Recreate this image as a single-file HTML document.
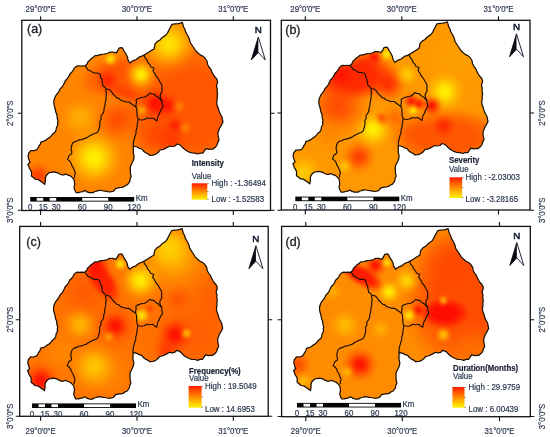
<!DOCTYPE html>
<html><head><meta charset="utf-8"><title>Drought characteristics maps</title>
<style>html,body{margin:0;padding:0;background:#fff}svg{display:block}text{stroke:#2e3a52;stroke-width:.22px;paint-order:stroke}</style></head>
<body>
<svg width="550" height="437" viewBox="0 0 550 437" font-family="'Liberation Sans', sans-serif" fill="#2e3a52">
<defs>
<clipPath id="rw"><path d="M54.0 100.0 L54.8 97.9 L55.7 95.8 L57.0 94.0 L58.8 91.8 L60.0 89.1 L62.0 87.0 L63.3 85.0 L64.4 82.9 L65.3 80.7 L67.0 79.0 L68.7 76.7 L69.9 74.0 L72.0 72.0 L73.3 70.2 L74.3 68.1 L76.0 66.6 L77.9 65.9 L80.0 66.0 L82.5 65.9 L85.0 66.0 L86.9 64.2 L88.0 61.7 L90.0 60.0 L91.5 58.3 L93.4 57.2 L95.0 55.6 L97.3 55.7 L99.5 54.9 L101.7 54.3 L104.0 54.0 L107.2 53.5 L110.0 52.0 L113.1 52.0 L116.0 53.0 L117.8 50.7 L119.0 48.0 L122.0 47.6 L123.2 49.2 L124.0 51.0 L126.0 54.0 L127.4 56.9 L128.0 60.0 L130.0 63.0 L131.8 61.4 L133.9 60.3 L136.2 59.5 L138.0 58.0 L139.8 56.7 L142.0 56.1 L144.0 55.0 L146.6 53.6 L149.0 52.0 L151.4 50.4 L154.0 49.0 L154.6 46.5 L155.0 44.0 L157.2 41.6 L160.0 40.0 L161.7 38.0 L163.8 36.4 L166.0 35.0 L167.7 32.6 L169.0 30.0 L170.4 27.2 L172.0 24.4 L175.0 23.8 L178.0 23.6 L180.2 23.1 L182.4 22.4 L183.0 24.7 L183.6 27.0 L184.9 29.2 L185.5 31.6 L186.7 33.8 L188.0 36.0 L189.3 38.9 L190.0 42.0 L191.3 44.0 L192.6 46.0 L194.0 48.0 L195.7 50.8 L198.0 53.0 L200.2 54.9 L202.8 56.1 L205.0 58.0 L207.0 61.0 L207.5 64.2 L209.0 67.0 L210.7 69.1 L211.7 71.6 L213.0 74.0 L214.3 76.2 L216.0 78.0 L217.2 79.9 L217.6 82.0 L217.0 84.0 L216.4 86.0 L217.3 88.6 L217.0 91.4 L217.6 94.0 L217.2 96.7 L217.2 99.5 L216.7 102.2 L217.0 105.0 L218.2 107.9 L219.0 111.0 L219.8 113.1 L220.9 115.0 L222.0 117.0 L222.4 119.5 L223.0 122.0 L222.0 124.0 L221.0 126.0 L219.7 127.8 L219.0 130.0 L218.0 132.4 L218.0 135.0 L218.5 137.5 L219.0 140.0 L217.8 142.4 L217.0 145.0 L215.3 147.3 L213.0 149.0 L211.0 149.0 L209.0 149.4 L206.0 148.6 L204.4 150.7 L203.0 153.0 L200.4 153.0 L198.0 154.0 L195.1 153.2 L192.0 153.0 L189.4 152.2 L187.0 151.0 L184.9 149.6 L183.0 148.0 L181.6 146.4 L180.0 145.0 L177.0 144.0 L175.0 146.0 L172.5 146.5 L170.0 146.0 L167.5 147.3 L165.0 148.6 L162.6 149.7 L160.0 150.0 L158.3 152.3 L156.0 154.0 L153.1 155.2 L150.0 155.4 L148.2 153.9 L146.0 153.0 L143.7 151.3 L142.0 149.0 L139.4 148.3 L137.0 147.0 L133.3 146.0 L133.4 148.1 L133.3 150.2 L133.3 153.2 L134.1 156.1 L133.8 159.2 L132.6 162.0 L131.5 164.2 L130.4 166.4 L130.3 168.6 L130.4 170.7 L130.4 173.7 L131.2 176.6 L130.1 179.1 L129.7 181.7 L127.5 184.7 L125.4 185.5 L123.8 186.9 L121.6 187.5 L119.4 187.6 L115.8 188.3 L113.6 191.2 L109.9 192.0 L107.7 191.7 L105.5 191.2 L103.3 191.0 L101.1 190.5 L98.8 190.4 L96.7 191.2 L94.7 191.5 L93.0 192.7 L89.4 192.7 L87.0 191.9 L85.0 190.5 L82.9 191.6 L80.6 192.0 L78.4 192.6 L76.2 192.7 L74.8 190.3 L74.0 187.6 L74.8 183.9 L74.4 181.7 L74.0 179.5 L72.3 177.6 L70.4 175.9 L68.0 175.2 L65.9 174.0 L63.8 174.9 L61.5 174.8 L59.3 173.8 L57.1 172.6 L53.5 171.9 L51.3 172.4 L49.1 172.6 L47.6 174.0 L46.2 175.5 L45.3 178.0 L45.4 180.6 L44.7 184.3 L41.8 182.1 L38.8 179.9 L35.2 179.2 L33.5 177.5 L31.5 176.2 L31.5 174.1 L31.5 171.9 L30.5 170.0 L29.3 168.2 L28.8 166.3 L27.9 164.5 L30.0 162.3 L28.6 158.7 L28.1 156.1 L28.6 153.5 L30.8 150.6 L33.8 150.7 L36.6 149.9 L38.0 148.2 L38.8 146.2 L40.3 144.2 L41.0 141.8 L43.3 141.4 L45.4 140.4 L47.5 138.8 L49.8 137.4 L51.5 135.6 L53.0 133.7 L55.0 132.3 L56.1 129.9 L56.5 127.3 L57.9 125.0 L57.5 123.0 L58.0 121.0 L57.2 118.1 L57.0 115.0 L56.0 112.8 L55.5 110.4 L55.0 108.0 L54.2 105.4 L53.8 102.7 Z"/></clipPath>
<linearGradient id="lg" x1="0" y1="0" x2="0" y2="1"><stop offset="0" stop-color="#ff1a00"/><stop offset="0.5" stop-color="#ff8c00"/><stop offset="1" stop-color="#fff200"/></linearGradient>
<filter id="bl" x="-5%" y="-5%" width="110%" height="110%"><feGaussianBlur stdDeviation="1.2"/></filter>
<radialGradient id="g1"><stop offset="0.00" stop-color="#ff5600" stop-opacity="1.00"/><stop offset="0.45" stop-color="#ff5600" stop-opacity="1.00"/><stop offset="0.70" stop-color="#ff5600" stop-opacity="0.60"/><stop offset="0.88" stop-color="#ff5600" stop-opacity="0.18"/><stop offset="1.00" stop-color="#ff5600" stop-opacity="0.00"/></radialGradient>
<radialGradient id="g2"><stop offset="0.00" stop-color="#ff5200" stop-opacity="0.90"/><stop offset="0.45" stop-color="#ff5200" stop-opacity="0.90"/><stop offset="0.70" stop-color="#ff5200" stop-opacity="0.54"/><stop offset="0.88" stop-color="#ff5200" stop-opacity="0.16"/><stop offset="1.00" stop-color="#ff5200" stop-opacity="0.00"/></radialGradient>
<radialGradient id="g3"><stop offset="0.00" stop-color="#fff000" stop-opacity="1.00"/><stop offset="0.20" stop-color="#fff000" stop-opacity="0.90"/><stop offset="0.40" stop-color="#fff000" stop-opacity="0.62"/><stop offset="0.60" stop-color="#fff000" stop-opacity="0.32"/><stop offset="0.80" stop-color="#fff000" stop-opacity="0.10"/><stop offset="1.00" stop-color="#fff000" stop-opacity="0.00"/></radialGradient>
<radialGradient id="g4"><stop offset="0.00" stop-color="#fff000" stop-opacity="0.90"/><stop offset="0.20" stop-color="#fff000" stop-opacity="0.81"/><stop offset="0.40" stop-color="#fff000" stop-opacity="0.56"/><stop offset="0.60" stop-color="#fff000" stop-opacity="0.29"/><stop offset="0.80" stop-color="#fff000" stop-opacity="0.09"/><stop offset="1.00" stop-color="#fff000" stop-opacity="0.00"/></radialGradient>
<radialGradient id="g5"><stop offset="0.00" stop-color="#ffe400" stop-opacity="1.00"/><stop offset="0.20" stop-color="#ffe400" stop-opacity="0.90"/><stop offset="0.40" stop-color="#ffe400" stop-opacity="0.62"/><stop offset="0.60" stop-color="#ffe400" stop-opacity="0.32"/><stop offset="0.80" stop-color="#ffe400" stop-opacity="0.10"/><stop offset="1.00" stop-color="#ffe400" stop-opacity="0.00"/></radialGradient>
<radialGradient id="g6"><stop offset="0.00" stop-color="#ffb800" stop-opacity="0.80"/><stop offset="0.20" stop-color="#ffb800" stop-opacity="0.72"/><stop offset="0.40" stop-color="#ffb800" stop-opacity="0.50"/><stop offset="0.60" stop-color="#ffb800" stop-opacity="0.26"/><stop offset="0.80" stop-color="#ffb800" stop-opacity="0.08"/><stop offset="1.00" stop-color="#ffb800" stop-opacity="0.00"/></radialGradient>
<radialGradient id="g7"><stop offset="0.00" stop-color="#fff000" stop-opacity="1.00"/><stop offset="0.20" stop-color="#fff000" stop-opacity="0.90"/><stop offset="0.40" stop-color="#fff000" stop-opacity="0.62"/><stop offset="0.60" stop-color="#fff000" stop-opacity="0.32"/><stop offset="0.80" stop-color="#fff000" stop-opacity="0.10"/><stop offset="1.00" stop-color="#fff000" stop-opacity="0.00"/></radialGradient>
<radialGradient id="g8"><stop offset="0.00" stop-color="#ff2000" stop-opacity="0.90"/><stop offset="0.20" stop-color="#ff2000" stop-opacity="0.81"/><stop offset="0.40" stop-color="#ff2000" stop-opacity="0.56"/><stop offset="0.60" stop-color="#ff2000" stop-opacity="0.29"/><stop offset="0.80" stop-color="#ff2000" stop-opacity="0.09"/><stop offset="1.00" stop-color="#ff2000" stop-opacity="0.00"/></radialGradient>
<radialGradient id="g9"><stop offset="0.00" stop-color="#ff3a00" stop-opacity="0.85"/><stop offset="0.20" stop-color="#ff3a00" stop-opacity="0.77"/><stop offset="0.40" stop-color="#ff3a00" stop-opacity="0.53"/><stop offset="0.60" stop-color="#ff3a00" stop-opacity="0.27"/><stop offset="0.80" stop-color="#ff3a00" stop-opacity="0.09"/><stop offset="1.00" stop-color="#ff3a00" stop-opacity="0.00"/></radialGradient>
<radialGradient id="g10"><stop offset="0.00" stop-color="#ff1000" stop-opacity="1.00"/><stop offset="0.20" stop-color="#ff1000" stop-opacity="0.90"/><stop offset="0.40" stop-color="#ff1000" stop-opacity="0.62"/><stop offset="0.60" stop-color="#ff1000" stop-opacity="0.32"/><stop offset="0.80" stop-color="#ff1000" stop-opacity="0.10"/><stop offset="1.00" stop-color="#ff1000" stop-opacity="0.00"/></radialGradient>
<radialGradient id="g11"><stop offset="0.00" stop-color="#ff1000" stop-opacity="0.90"/><stop offset="0.20" stop-color="#ff1000" stop-opacity="0.81"/><stop offset="0.40" stop-color="#ff1000" stop-opacity="0.56"/><stop offset="0.60" stop-color="#ff1000" stop-opacity="0.29"/><stop offset="0.80" stop-color="#ff1000" stop-opacity="0.09"/><stop offset="1.00" stop-color="#ff1000" stop-opacity="0.00"/></radialGradient>
<radialGradient id="g12"><stop offset="0.00" stop-color="#ffb000" stop-opacity="0.90"/><stop offset="0.20" stop-color="#ffb000" stop-opacity="0.81"/><stop offset="0.40" stop-color="#ffb000" stop-opacity="0.56"/><stop offset="0.60" stop-color="#ffb000" stop-opacity="0.29"/><stop offset="0.80" stop-color="#ffb000" stop-opacity="0.09"/><stop offset="1.00" stop-color="#ffb000" stop-opacity="0.00"/></radialGradient>
<radialGradient id="g13"><stop offset="0.00" stop-color="#ff9000" stop-opacity="0.75"/><stop offset="0.20" stop-color="#ff9000" stop-opacity="0.68"/><stop offset="0.40" stop-color="#ff9000" stop-opacity="0.46"/><stop offset="0.60" stop-color="#ff9000" stop-opacity="0.24"/><stop offset="0.80" stop-color="#ff9000" stop-opacity="0.08"/><stop offset="1.00" stop-color="#ff9000" stop-opacity="0.00"/></radialGradient>
<radialGradient id="g14"><stop offset="0.00" stop-color="#ff1000" stop-opacity="0.95"/><stop offset="0.20" stop-color="#ff1000" stop-opacity="0.85"/><stop offset="0.40" stop-color="#ff1000" stop-opacity="0.59"/><stop offset="0.60" stop-color="#ff1000" stop-opacity="0.30"/><stop offset="0.80" stop-color="#ff1000" stop-opacity="0.10"/><stop offset="1.00" stop-color="#ff1000" stop-opacity="0.00"/></radialGradient>
<radialGradient id="g15"><stop offset="0.00" stop-color="#ff9600" stop-opacity="0.80"/><stop offset="0.20" stop-color="#ff9600" stop-opacity="0.72"/><stop offset="0.40" stop-color="#ff9600" stop-opacity="0.50"/><stop offset="0.60" stop-color="#ff9600" stop-opacity="0.26"/><stop offset="0.80" stop-color="#ff9600" stop-opacity="0.08"/><stop offset="1.00" stop-color="#ff9600" stop-opacity="0.00"/></radialGradient>
<radialGradient id="g16"><stop offset="0.00" stop-color="#ff2800" stop-opacity="0.80"/><stop offset="0.20" stop-color="#ff2800" stop-opacity="0.72"/><stop offset="0.40" stop-color="#ff2800" stop-opacity="0.50"/><stop offset="0.60" stop-color="#ff2800" stop-opacity="0.26"/><stop offset="0.80" stop-color="#ff2800" stop-opacity="0.08"/><stop offset="1.00" stop-color="#ff2800" stop-opacity="0.00"/></radialGradient>
<radialGradient id="g17"><stop offset="0.00" stop-color="#ff3800" stop-opacity="0.95"/><stop offset="0.20" stop-color="#ff3800" stop-opacity="0.85"/><stop offset="0.40" stop-color="#ff3800" stop-opacity="0.59"/><stop offset="0.60" stop-color="#ff3800" stop-opacity="0.30"/><stop offset="0.80" stop-color="#ff3800" stop-opacity="0.10"/><stop offset="1.00" stop-color="#ff3800" stop-opacity="0.00"/></radialGradient>
<radialGradient id="g18"><stop offset="0.00" stop-color="#ff4000" stop-opacity="0.80"/><stop offset="0.20" stop-color="#ff4000" stop-opacity="0.72"/><stop offset="0.40" stop-color="#ff4000" stop-opacity="0.50"/><stop offset="0.60" stop-color="#ff4000" stop-opacity="0.26"/><stop offset="0.80" stop-color="#ff4000" stop-opacity="0.08"/><stop offset="1.00" stop-color="#ff4000" stop-opacity="0.00"/></radialGradient>
<radialGradient id="g19"><stop offset="0.00" stop-color="#ff4000" stop-opacity="0.80"/><stop offset="0.20" stop-color="#ff4000" stop-opacity="0.72"/><stop offset="0.40" stop-color="#ff4000" stop-opacity="0.50"/><stop offset="0.60" stop-color="#ff4000" stop-opacity="0.26"/><stop offset="0.80" stop-color="#ff4000" stop-opacity="0.08"/><stop offset="1.00" stop-color="#ff4000" stop-opacity="0.00"/></radialGradient>
<radialGradient id="g20"><stop offset="0.00" stop-color="#ffa200" stop-opacity="0.70"/><stop offset="0.20" stop-color="#ffa200" stop-opacity="0.63"/><stop offset="0.40" stop-color="#ffa200" stop-opacity="0.43"/><stop offset="0.60" stop-color="#ffa200" stop-opacity="0.22"/><stop offset="0.80" stop-color="#ffa200" stop-opacity="0.07"/><stop offset="1.00" stop-color="#ffa200" stop-opacity="0.00"/></radialGradient>
<radialGradient id="g21"><stop offset="0.00" stop-color="#ff5600" stop-opacity="1.00"/><stop offset="0.45" stop-color="#ff5600" stop-opacity="1.00"/><stop offset="0.70" stop-color="#ff5600" stop-opacity="0.60"/><stop offset="0.88" stop-color="#ff5600" stop-opacity="0.18"/><stop offset="1.00" stop-color="#ff5600" stop-opacity="0.00"/></radialGradient>
<radialGradient id="g22"><stop offset="0.00" stop-color="#ff2a00" stop-opacity="1.00"/><stop offset="0.45" stop-color="#ff2a00" stop-opacity="1.00"/><stop offset="0.70" stop-color="#ff2a00" stop-opacity="0.60"/><stop offset="0.88" stop-color="#ff2a00" stop-opacity="0.18"/><stop offset="1.00" stop-color="#ff2a00" stop-opacity="0.00"/></radialGradient>
<radialGradient id="g23"><stop offset="0.00" stop-color="#ff1000" stop-opacity="0.80"/><stop offset="0.20" stop-color="#ff1000" stop-opacity="0.72"/><stop offset="0.40" stop-color="#ff1000" stop-opacity="0.50"/><stop offset="0.60" stop-color="#ff1000" stop-opacity="0.26"/><stop offset="0.80" stop-color="#ff1000" stop-opacity="0.08"/><stop offset="1.00" stop-color="#ff1000" stop-opacity="0.00"/></radialGradient>
<radialGradient id="g24"><stop offset="0.00" stop-color="#ff1000" stop-opacity="0.95"/><stop offset="0.20" stop-color="#ff1000" stop-opacity="0.85"/><stop offset="0.40" stop-color="#ff1000" stop-opacity="0.59"/><stop offset="0.60" stop-color="#ff1000" stop-opacity="0.30"/><stop offset="0.80" stop-color="#ff1000" stop-opacity="0.10"/><stop offset="1.00" stop-color="#ff1000" stop-opacity="0.00"/></radialGradient>
<radialGradient id="g25"><stop offset="0.00" stop-color="#fff000" stop-opacity="0.95"/><stop offset="0.20" stop-color="#fff000" stop-opacity="0.85"/><stop offset="0.40" stop-color="#fff000" stop-opacity="0.59"/><stop offset="0.60" stop-color="#fff000" stop-opacity="0.30"/><stop offset="0.80" stop-color="#fff000" stop-opacity="0.10"/><stop offset="1.00" stop-color="#fff000" stop-opacity="0.00"/></radialGradient>
<radialGradient id="g26"><stop offset="0.00" stop-color="#ff2800" stop-opacity="0.95"/><stop offset="0.20" stop-color="#ff2800" stop-opacity="0.85"/><stop offset="0.40" stop-color="#ff2800" stop-opacity="0.59"/><stop offset="0.60" stop-color="#ff2800" stop-opacity="0.30"/><stop offset="0.80" stop-color="#ff2800" stop-opacity="0.10"/><stop offset="1.00" stop-color="#ff2800" stop-opacity="0.00"/></radialGradient>
<radialGradient id="g27"><stop offset="0.00" stop-color="#ffd000" stop-opacity="0.90"/><stop offset="0.20" stop-color="#ffd000" stop-opacity="0.81"/><stop offset="0.40" stop-color="#ffd000" stop-opacity="0.56"/><stop offset="0.60" stop-color="#ffd000" stop-opacity="0.29"/><stop offset="0.80" stop-color="#ffd000" stop-opacity="0.09"/><stop offset="1.00" stop-color="#ffd000" stop-opacity="0.00"/></radialGradient>
<radialGradient id="g28"><stop offset="0.00" stop-color="#fff000" stop-opacity="1.00"/><stop offset="0.20" stop-color="#fff000" stop-opacity="0.90"/><stop offset="0.40" stop-color="#fff000" stop-opacity="0.62"/><stop offset="0.60" stop-color="#fff000" stop-opacity="0.32"/><stop offset="0.80" stop-color="#fff000" stop-opacity="0.10"/><stop offset="1.00" stop-color="#fff000" stop-opacity="0.00"/></radialGradient>
<radialGradient id="g29"><stop offset="0.00" stop-color="#ff1000" stop-opacity="1.00"/><stop offset="0.20" stop-color="#ff1000" stop-opacity="0.90"/><stop offset="0.40" stop-color="#ff1000" stop-opacity="0.62"/><stop offset="0.60" stop-color="#ff1000" stop-opacity="0.32"/><stop offset="0.80" stop-color="#ff1000" stop-opacity="0.10"/><stop offset="1.00" stop-color="#ff1000" stop-opacity="0.00"/></radialGradient>
<radialGradient id="g30"><stop offset="0.00" stop-color="#ff1000" stop-opacity="1.00"/><stop offset="0.20" stop-color="#ff1000" stop-opacity="0.90"/><stop offset="0.40" stop-color="#ff1000" stop-opacity="0.62"/><stop offset="0.60" stop-color="#ff1000" stop-opacity="0.32"/><stop offset="0.80" stop-color="#ff1000" stop-opacity="0.10"/><stop offset="1.00" stop-color="#ff1000" stop-opacity="0.00"/></radialGradient>
<radialGradient id="g31"><stop offset="0.00" stop-color="#fff000" stop-opacity="0.95"/><stop offset="0.20" stop-color="#fff000" stop-opacity="0.85"/><stop offset="0.40" stop-color="#fff000" stop-opacity="0.59"/><stop offset="0.60" stop-color="#fff000" stop-opacity="0.30"/><stop offset="0.80" stop-color="#fff000" stop-opacity="0.10"/><stop offset="1.00" stop-color="#fff000" stop-opacity="0.00"/></radialGradient>
<radialGradient id="g32"><stop offset="0.00" stop-color="#ff1000" stop-opacity="1.00"/><stop offset="0.20" stop-color="#ff1000" stop-opacity="0.90"/><stop offset="0.40" stop-color="#ff1000" stop-opacity="0.62"/><stop offset="0.60" stop-color="#ff1000" stop-opacity="0.32"/><stop offset="0.80" stop-color="#ff1000" stop-opacity="0.10"/><stop offset="1.00" stop-color="#ff1000" stop-opacity="0.00"/></radialGradient>
<radialGradient id="g33"><stop offset="0.00" stop-color="#ff1000" stop-opacity="0.95"/><stop offset="0.20" stop-color="#ff1000" stop-opacity="0.85"/><stop offset="0.40" stop-color="#ff1000" stop-opacity="0.59"/><stop offset="0.60" stop-color="#ff1000" stop-opacity="0.30"/><stop offset="0.80" stop-color="#ff1000" stop-opacity="0.10"/><stop offset="1.00" stop-color="#ff1000" stop-opacity="0.00"/></radialGradient>
<radialGradient id="g34"><stop offset="0.00" stop-color="#ff5000" stop-opacity="0.60"/><stop offset="0.20" stop-color="#ff5000" stop-opacity="0.54"/><stop offset="0.40" stop-color="#ff5000" stop-opacity="0.37"/><stop offset="0.60" stop-color="#ff5000" stop-opacity="0.19"/><stop offset="0.80" stop-color="#ff5000" stop-opacity="0.06"/><stop offset="1.00" stop-color="#ff5000" stop-opacity="0.00"/></radialGradient>
<radialGradient id="g35"><stop offset="0.00" stop-color="#fff000" stop-opacity="1.00"/><stop offset="0.20" stop-color="#fff000" stop-opacity="0.90"/><stop offset="0.40" stop-color="#fff000" stop-opacity="0.62"/><stop offset="0.60" stop-color="#fff000" stop-opacity="0.32"/><stop offset="0.80" stop-color="#fff000" stop-opacity="0.10"/><stop offset="1.00" stop-color="#fff000" stop-opacity="0.00"/></radialGradient>
<radialGradient id="g36"><stop offset="0.00" stop-color="#ff2400" stop-opacity="0.90"/><stop offset="0.20" stop-color="#ff2400" stop-opacity="0.81"/><stop offset="0.40" stop-color="#ff2400" stop-opacity="0.56"/><stop offset="0.60" stop-color="#ff2400" stop-opacity="0.29"/><stop offset="0.80" stop-color="#ff2400" stop-opacity="0.09"/><stop offset="1.00" stop-color="#ff2400" stop-opacity="0.00"/></radialGradient>
<radialGradient id="g37"><stop offset="0.00" stop-color="#ff5000" stop-opacity="0.70"/><stop offset="0.20" stop-color="#ff5000" stop-opacity="0.63"/><stop offset="0.40" stop-color="#ff5000" stop-opacity="0.43"/><stop offset="0.60" stop-color="#ff5000" stop-opacity="0.22"/><stop offset="0.80" stop-color="#ff5000" stop-opacity="0.07"/><stop offset="1.00" stop-color="#ff5000" stop-opacity="0.00"/></radialGradient>
<radialGradient id="g38"><stop offset="0.00" stop-color="#ff3400" stop-opacity="0.90"/><stop offset="0.20" stop-color="#ff3400" stop-opacity="0.81"/><stop offset="0.40" stop-color="#ff3400" stop-opacity="0.56"/><stop offset="0.60" stop-color="#ff3400" stop-opacity="0.29"/><stop offset="0.80" stop-color="#ff3400" stop-opacity="0.09"/><stop offset="1.00" stop-color="#ff3400" stop-opacity="0.00"/></radialGradient>
<radialGradient id="g39"><stop offset="0.00" stop-color="#ffd000" stop-opacity="0.80"/><stop offset="0.20" stop-color="#ffd000" stop-opacity="0.72"/><stop offset="0.40" stop-color="#ffd000" stop-opacity="0.50"/><stop offset="0.60" stop-color="#ffd000" stop-opacity="0.26"/><stop offset="0.80" stop-color="#ffd000" stop-opacity="0.08"/><stop offset="1.00" stop-color="#ffd000" stop-opacity="0.00"/></radialGradient>
<radialGradient id="g40"><stop offset="0.00" stop-color="#ffd000" stop-opacity="0.90"/><stop offset="0.20" stop-color="#ffd000" stop-opacity="0.81"/><stop offset="0.40" stop-color="#ffd000" stop-opacity="0.56"/><stop offset="0.60" stop-color="#ffd000" stop-opacity="0.29"/><stop offset="0.80" stop-color="#ffd000" stop-opacity="0.09"/><stop offset="1.00" stop-color="#ffd000" stop-opacity="0.00"/></radialGradient>
<radialGradient id="g41"><stop offset="0.00" stop-color="#ff4200" stop-opacity="0.90"/><stop offset="0.20" stop-color="#ff4200" stop-opacity="0.81"/><stop offset="0.40" stop-color="#ff4200" stop-opacity="0.56"/><stop offset="0.60" stop-color="#ff4200" stop-opacity="0.29"/><stop offset="0.80" stop-color="#ff4200" stop-opacity="0.09"/><stop offset="1.00" stop-color="#ff4200" stop-opacity="0.00"/></radialGradient>
<radialGradient id="g42"><stop offset="0.00" stop-color="#ff2800" stop-opacity="0.90"/><stop offset="0.20" stop-color="#ff2800" stop-opacity="0.81"/><stop offset="0.40" stop-color="#ff2800" stop-opacity="0.56"/><stop offset="0.60" stop-color="#ff2800" stop-opacity="0.29"/><stop offset="0.80" stop-color="#ff2800" stop-opacity="0.09"/><stop offset="1.00" stop-color="#ff2800" stop-opacity="0.00"/></radialGradient>
<radialGradient id="g43"><stop offset="0.00" stop-color="#ff7a00" stop-opacity="0.50"/><stop offset="0.20" stop-color="#ff7a00" stop-opacity="0.45"/><stop offset="0.40" stop-color="#ff7a00" stop-opacity="0.31"/><stop offset="0.60" stop-color="#ff7a00" stop-opacity="0.16"/><stop offset="0.80" stop-color="#ff7a00" stop-opacity="0.05"/><stop offset="1.00" stop-color="#ff7a00" stop-opacity="0.00"/></radialGradient>
<radialGradient id="g44"><stop offset="0.00" stop-color="#ff5a00" stop-opacity="0.90"/><stop offset="0.20" stop-color="#ff5a00" stop-opacity="0.81"/><stop offset="0.40" stop-color="#ff5a00" stop-opacity="0.56"/><stop offset="0.60" stop-color="#ff5a00" stop-opacity="0.29"/><stop offset="0.80" stop-color="#ff5a00" stop-opacity="0.09"/><stop offset="1.00" stop-color="#ff5a00" stop-opacity="0.00"/></radialGradient>
<radialGradient id="g45"><stop offset="0.00" stop-color="#ffb800" stop-opacity="0.90"/><stop offset="0.20" stop-color="#ffb800" stop-opacity="0.81"/><stop offset="0.40" stop-color="#ffb800" stop-opacity="0.56"/><stop offset="0.60" stop-color="#ffb800" stop-opacity="0.29"/><stop offset="0.80" stop-color="#ffb800" stop-opacity="0.09"/><stop offset="1.00" stop-color="#ffb800" stop-opacity="0.00"/></radialGradient>
<radialGradient id="g46"><stop offset="0.00" stop-color="#ffd400" stop-opacity="0.90"/><stop offset="0.20" stop-color="#ffd400" stop-opacity="0.81"/><stop offset="0.40" stop-color="#ffd400" stop-opacity="0.56"/><stop offset="0.60" stop-color="#ffd400" stop-opacity="0.29"/><stop offset="0.80" stop-color="#ffd400" stop-opacity="0.09"/><stop offset="1.00" stop-color="#ffd400" stop-opacity="0.00"/></radialGradient>
<radialGradient id="g47"><stop offset="0.00" stop-color="#ff5a00" stop-opacity="0.80"/><stop offset="0.20" stop-color="#ff5a00" stop-opacity="0.72"/><stop offset="0.40" stop-color="#ff5a00" stop-opacity="0.50"/><stop offset="0.60" stop-color="#ff5a00" stop-opacity="0.26"/><stop offset="0.80" stop-color="#ff5a00" stop-opacity="0.08"/><stop offset="1.00" stop-color="#ff5a00" stop-opacity="0.00"/></radialGradient>
<radialGradient id="g48"><stop offset="0.00" stop-color="#ff5000" stop-opacity="0.70"/><stop offset="0.20" stop-color="#ff5000" stop-opacity="0.63"/><stop offset="0.40" stop-color="#ff5000" stop-opacity="0.43"/><stop offset="0.60" stop-color="#ff5000" stop-opacity="0.22"/><stop offset="0.80" stop-color="#ff5000" stop-opacity="0.07"/><stop offset="1.00" stop-color="#ff5000" stop-opacity="0.00"/></radialGradient>
<radialGradient id="g49"><stop offset="0.00" stop-color="#ff2000" stop-opacity="1.00"/><stop offset="0.45" stop-color="#ff2000" stop-opacity="1.00"/><stop offset="0.70" stop-color="#ff2000" stop-opacity="0.60"/><stop offset="0.88" stop-color="#ff2000" stop-opacity="0.18"/><stop offset="1.00" stop-color="#ff2000" stop-opacity="0.00"/></radialGradient>
<radialGradient id="g50"><stop offset="0.00" stop-color="#ff1000" stop-opacity="1.00"/><stop offset="0.20" stop-color="#ff1000" stop-opacity="0.90"/><stop offset="0.40" stop-color="#ff1000" stop-opacity="0.62"/><stop offset="0.60" stop-color="#ff1000" stop-opacity="0.32"/><stop offset="0.80" stop-color="#ff1000" stop-opacity="0.10"/><stop offset="1.00" stop-color="#ff1000" stop-opacity="0.00"/></radialGradient>
<radialGradient id="g51"><stop offset="0.00" stop-color="#fff000" stop-opacity="0.95"/><stop offset="0.20" stop-color="#fff000" stop-opacity="0.85"/><stop offset="0.40" stop-color="#fff000" stop-opacity="0.59"/><stop offset="0.60" stop-color="#fff000" stop-opacity="0.30"/><stop offset="0.80" stop-color="#fff000" stop-opacity="0.10"/><stop offset="1.00" stop-color="#fff000" stop-opacity="0.00"/></radialGradient>
<radialGradient id="g52"><stop offset="0.00" stop-color="#fff000" stop-opacity="1.00"/><stop offset="0.20" stop-color="#fff000" stop-opacity="0.90"/><stop offset="0.40" stop-color="#fff000" stop-opacity="0.62"/><stop offset="0.60" stop-color="#fff000" stop-opacity="0.32"/><stop offset="0.80" stop-color="#fff000" stop-opacity="0.10"/><stop offset="1.00" stop-color="#fff000" stop-opacity="0.00"/></radialGradient>
<radialGradient id="g53"><stop offset="0.00" stop-color="#fff000" stop-opacity="0.95"/><stop offset="0.20" stop-color="#fff000" stop-opacity="0.85"/><stop offset="0.40" stop-color="#fff000" stop-opacity="0.59"/><stop offset="0.60" stop-color="#fff000" stop-opacity="0.30"/><stop offset="0.80" stop-color="#fff000" stop-opacity="0.10"/><stop offset="1.00" stop-color="#fff000" stop-opacity="0.00"/></radialGradient>
<radialGradient id="g54"><stop offset="0.00" stop-color="#ff4000" stop-opacity="0.80"/><stop offset="0.20" stop-color="#ff4000" stop-opacity="0.72"/><stop offset="0.40" stop-color="#ff4000" stop-opacity="0.50"/><stop offset="0.60" stop-color="#ff4000" stop-opacity="0.26"/><stop offset="0.80" stop-color="#ff4000" stop-opacity="0.08"/><stop offset="1.00" stop-color="#ff4000" stop-opacity="0.00"/></radialGradient>
<radialGradient id="g55"><stop offset="0.00" stop-color="#ff3c00" stop-opacity="0.80"/><stop offset="0.20" stop-color="#ff3c00" stop-opacity="0.72"/><stop offset="0.40" stop-color="#ff3c00" stop-opacity="0.50"/><stop offset="0.60" stop-color="#ff3c00" stop-opacity="0.26"/><stop offset="0.80" stop-color="#ff3c00" stop-opacity="0.08"/><stop offset="1.00" stop-color="#ff3c00" stop-opacity="0.00"/></radialGradient>
<radialGradient id="g56"><stop offset="0.00" stop-color="#ff1000" stop-opacity="1.00"/><stop offset="0.20" stop-color="#ff1000" stop-opacity="0.90"/><stop offset="0.40" stop-color="#ff1000" stop-opacity="0.62"/><stop offset="0.60" stop-color="#ff1000" stop-opacity="0.32"/><stop offset="0.80" stop-color="#ff1000" stop-opacity="0.10"/><stop offset="1.00" stop-color="#ff1000" stop-opacity="0.00"/></radialGradient>
<radialGradient id="g57"><stop offset="0.00" stop-color="#ffc000" stop-opacity="0.85"/><stop offset="0.20" stop-color="#ffc000" stop-opacity="0.77"/><stop offset="0.40" stop-color="#ffc000" stop-opacity="0.53"/><stop offset="0.60" stop-color="#ffc000" stop-opacity="0.27"/><stop offset="0.80" stop-color="#ffc000" stop-opacity="0.09"/><stop offset="1.00" stop-color="#ffc000" stop-opacity="0.00"/></radialGradient>
<radialGradient id="g58"><stop offset="0.00" stop-color="#ffb000" stop-opacity="0.80"/><stop offset="0.20" stop-color="#ffb000" stop-opacity="0.72"/><stop offset="0.40" stop-color="#ffb000" stop-opacity="0.50"/><stop offset="0.60" stop-color="#ffb000" stop-opacity="0.26"/><stop offset="0.80" stop-color="#ffb000" stop-opacity="0.08"/><stop offset="1.00" stop-color="#ffb000" stop-opacity="0.00"/></radialGradient>
<radialGradient id="g59"><stop offset="0.00" stop-color="#ff9400" stop-opacity="0.70"/><stop offset="0.20" stop-color="#ff9400" stop-opacity="0.63"/><stop offset="0.40" stop-color="#ff9400" stop-opacity="0.43"/><stop offset="0.60" stop-color="#ff9400" stop-opacity="0.22"/><stop offset="0.80" stop-color="#ff9400" stop-opacity="0.07"/><stop offset="1.00" stop-color="#ff9400" stop-opacity="0.00"/></radialGradient>
<radialGradient id="g60"><stop offset="0.00" stop-color="#ffd000" stop-opacity="0.85"/><stop offset="0.20" stop-color="#ffd000" stop-opacity="0.77"/><stop offset="0.40" stop-color="#ffd000" stop-opacity="0.53"/><stop offset="0.60" stop-color="#ffd000" stop-opacity="0.27"/><stop offset="0.80" stop-color="#ffd000" stop-opacity="0.09"/><stop offset="1.00" stop-color="#ffd000" stop-opacity="0.00"/></radialGradient>
<radialGradient id="g61"><stop offset="0.00" stop-color="#ff8e00" stop-opacity="0.70"/><stop offset="0.20" stop-color="#ff8e00" stop-opacity="0.63"/><stop offset="0.40" stop-color="#ff8e00" stop-opacity="0.43"/><stop offset="0.60" stop-color="#ff8e00" stop-opacity="0.22"/><stop offset="0.80" stop-color="#ff8e00" stop-opacity="0.07"/><stop offset="1.00" stop-color="#ff8e00" stop-opacity="0.00"/></radialGradient>
<radialGradient id="g62"><stop offset="0.00" stop-color="#ff1000" stop-opacity="1.00"/><stop offset="0.20" stop-color="#ff1000" stop-opacity="0.90"/><stop offset="0.40" stop-color="#ff1000" stop-opacity="0.62"/><stop offset="0.60" stop-color="#ff1000" stop-opacity="0.32"/><stop offset="0.80" stop-color="#ff1000" stop-opacity="0.10"/><stop offset="1.00" stop-color="#ff1000" stop-opacity="0.00"/></radialGradient>
<radialGradient id="g63"><stop offset="0.00" stop-color="#ff1000" stop-opacity="1.00"/><stop offset="0.20" stop-color="#ff1000" stop-opacity="0.90"/><stop offset="0.40" stop-color="#ff1000" stop-opacity="0.62"/><stop offset="0.60" stop-color="#ff1000" stop-opacity="0.32"/><stop offset="0.80" stop-color="#ff1000" stop-opacity="0.10"/><stop offset="1.00" stop-color="#ff1000" stop-opacity="0.00"/></radialGradient>
<radialGradient id="g64"><stop offset="0.00" stop-color="#ff3000" stop-opacity="0.80"/><stop offset="0.20" stop-color="#ff3000" stop-opacity="0.72"/><stop offset="0.40" stop-color="#ff3000" stop-opacity="0.50"/><stop offset="0.60" stop-color="#ff3000" stop-opacity="0.26"/><stop offset="0.80" stop-color="#ff3000" stop-opacity="0.08"/><stop offset="1.00" stop-color="#ff3000" stop-opacity="0.00"/></radialGradient>
<radialGradient id="g65"><stop offset="0.00" stop-color="#ffc400" stop-opacity="0.95"/><stop offset="0.20" stop-color="#ffc400" stop-opacity="0.85"/><stop offset="0.40" stop-color="#ffc400" stop-opacity="0.59"/><stop offset="0.60" stop-color="#ffc400" stop-opacity="0.30"/><stop offset="0.80" stop-color="#ffc400" stop-opacity="0.10"/><stop offset="1.00" stop-color="#ffc400" stop-opacity="0.00"/></radialGradient>
<radialGradient id="g66"><stop offset="0.00" stop-color="#ff4400" stop-opacity="0.60"/><stop offset="0.20" stop-color="#ff4400" stop-opacity="0.54"/><stop offset="0.40" stop-color="#ff4400" stop-opacity="0.37"/><stop offset="0.60" stop-color="#ff4400" stop-opacity="0.19"/><stop offset="0.80" stop-color="#ff4400" stop-opacity="0.06"/><stop offset="1.00" stop-color="#ff4400" stop-opacity="0.00"/></radialGradient>
<radialGradient id="g67"><stop offset="0.00" stop-color="#ff4e00" stop-opacity="1.00"/><stop offset="0.45" stop-color="#ff4e00" stop-opacity="1.00"/><stop offset="0.70" stop-color="#ff4e00" stop-opacity="0.60"/><stop offset="0.88" stop-color="#ff4e00" stop-opacity="0.18"/><stop offset="1.00" stop-color="#ff4e00" stop-opacity="0.00"/></radialGradient>
<radialGradient id="g68"><stop offset="0.00" stop-color="#ff4400" stop-opacity="0.70"/><stop offset="0.20" stop-color="#ff4400" stop-opacity="0.63"/><stop offset="0.40" stop-color="#ff4400" stop-opacity="0.43"/><stop offset="0.60" stop-color="#ff4400" stop-opacity="0.22"/><stop offset="0.80" stop-color="#ff4400" stop-opacity="0.07"/><stop offset="1.00" stop-color="#ff4400" stop-opacity="0.00"/></radialGradient>
<radialGradient id="g69"><stop offset="0.00" stop-color="#ff7800" stop-opacity="0.50"/><stop offset="0.20" stop-color="#ff7800" stop-opacity="0.45"/><stop offset="0.40" stop-color="#ff7800" stop-opacity="0.31"/><stop offset="0.60" stop-color="#ff7800" stop-opacity="0.16"/><stop offset="0.80" stop-color="#ff7800" stop-opacity="0.05"/><stop offset="1.00" stop-color="#ff7800" stop-opacity="0.00"/></radialGradient>
<radialGradient id="g70"><stop offset="0.00" stop-color="#ff1000" stop-opacity="1.00"/><stop offset="0.20" stop-color="#ff1000" stop-opacity="0.90"/><stop offset="0.40" stop-color="#ff1000" stop-opacity="0.62"/><stop offset="0.60" stop-color="#ff1000" stop-opacity="0.32"/><stop offset="0.80" stop-color="#ff1000" stop-opacity="0.10"/><stop offset="1.00" stop-color="#ff1000" stop-opacity="0.00"/></radialGradient>
<radialGradient id="g71"><stop offset="0.00" stop-color="#ff1c00" stop-opacity="1.00"/><stop offset="0.45" stop-color="#ff1c00" stop-opacity="1.00"/><stop offset="0.70" stop-color="#ff1c00" stop-opacity="0.60"/><stop offset="0.88" stop-color="#ff1c00" stop-opacity="0.18"/><stop offset="1.00" stop-color="#ff1c00" stop-opacity="0.00"/></radialGradient>
<radialGradient id="g72"><stop offset="0.00" stop-color="#fff000" stop-opacity="0.90"/><stop offset="0.20" stop-color="#fff000" stop-opacity="0.81"/><stop offset="0.40" stop-color="#fff000" stop-opacity="0.56"/><stop offset="0.60" stop-color="#fff000" stop-opacity="0.29"/><stop offset="0.80" stop-color="#fff000" stop-opacity="0.09"/><stop offset="1.00" stop-color="#fff000" stop-opacity="0.00"/></radialGradient>
<radialGradient id="g73"><stop offset="0.00" stop-color="#fff000" stop-opacity="1.00"/><stop offset="0.20" stop-color="#fff000" stop-opacity="0.90"/><stop offset="0.40" stop-color="#fff000" stop-opacity="0.62"/><stop offset="0.60" stop-color="#fff000" stop-opacity="0.32"/><stop offset="0.80" stop-color="#fff000" stop-opacity="0.10"/><stop offset="1.00" stop-color="#fff000" stop-opacity="0.00"/></radialGradient>
<radialGradient id="g74"><stop offset="0.00" stop-color="#ffd800" stop-opacity="0.95"/><stop offset="0.20" stop-color="#ffd800" stop-opacity="0.85"/><stop offset="0.40" stop-color="#ffd800" stop-opacity="0.59"/><stop offset="0.60" stop-color="#ffd800" stop-opacity="0.30"/><stop offset="0.80" stop-color="#ffd800" stop-opacity="0.10"/><stop offset="1.00" stop-color="#ffd800" stop-opacity="0.00"/></radialGradient>
<radialGradient id="g75"><stop offset="0.00" stop-color="#ff1000" stop-opacity="1.00"/><stop offset="0.20" stop-color="#ff1000" stop-opacity="0.90"/><stop offset="0.40" stop-color="#ff1000" stop-opacity="0.62"/><stop offset="0.60" stop-color="#ff1000" stop-opacity="0.32"/><stop offset="0.80" stop-color="#ff1000" stop-opacity="0.10"/><stop offset="1.00" stop-color="#ff1000" stop-opacity="0.00"/></radialGradient>
<radialGradient id="g76"><stop offset="0.00" stop-color="#fff000" stop-opacity="0.95"/><stop offset="0.20" stop-color="#fff000" stop-opacity="0.85"/><stop offset="0.40" stop-color="#fff000" stop-opacity="0.59"/><stop offset="0.60" stop-color="#fff000" stop-opacity="0.30"/><stop offset="0.80" stop-color="#fff000" stop-opacity="0.10"/><stop offset="1.00" stop-color="#fff000" stop-opacity="0.00"/></radialGradient>
<radialGradient id="g77"><stop offset="0.00" stop-color="#ffc800" stop-opacity="0.80"/><stop offset="0.20" stop-color="#ffc800" stop-opacity="0.72"/><stop offset="0.40" stop-color="#ffc800" stop-opacity="0.50"/><stop offset="0.60" stop-color="#ffc800" stop-opacity="0.26"/><stop offset="0.80" stop-color="#ffc800" stop-opacity="0.08"/><stop offset="1.00" stop-color="#ffc800" stop-opacity="0.00"/></radialGradient>
<radialGradient id="g78"><stop offset="0.00" stop-color="#ffc000" stop-opacity="0.70"/><stop offset="0.20" stop-color="#ffc000" stop-opacity="0.63"/><stop offset="0.40" stop-color="#ffc000" stop-opacity="0.43"/><stop offset="0.60" stop-color="#ffc000" stop-opacity="0.22"/><stop offset="0.80" stop-color="#ffc000" stop-opacity="0.07"/><stop offset="1.00" stop-color="#ffc000" stop-opacity="0.00"/></radialGradient>
<radialGradient id="g79"><stop offset="0.00" stop-color="#ffbc00" stop-opacity="0.70"/><stop offset="0.20" stop-color="#ffbc00" stop-opacity="0.63"/><stop offset="0.40" stop-color="#ffbc00" stop-opacity="0.43"/><stop offset="0.60" stop-color="#ffbc00" stop-opacity="0.22"/><stop offset="0.80" stop-color="#ffbc00" stop-opacity="0.07"/><stop offset="1.00" stop-color="#ffbc00" stop-opacity="0.00"/></radialGradient>
<radialGradient id="g80"><stop offset="0.00" stop-color="#ff1000" stop-opacity="1.00"/><stop offset="0.20" stop-color="#ff1000" stop-opacity="0.90"/><stop offset="0.40" stop-color="#ff1000" stop-opacity="0.62"/><stop offset="0.60" stop-color="#ff1000" stop-opacity="0.32"/><stop offset="0.80" stop-color="#ff1000" stop-opacity="0.10"/><stop offset="1.00" stop-color="#ff1000" stop-opacity="0.00"/></radialGradient>
<radialGradient id="g81"><stop offset="0.00" stop-color="#ffc800" stop-opacity="0.75"/><stop offset="0.20" stop-color="#ffc800" stop-opacity="0.68"/><stop offset="0.40" stop-color="#ffc800" stop-opacity="0.46"/><stop offset="0.60" stop-color="#ffc800" stop-opacity="0.24"/><stop offset="0.80" stop-color="#ffc800" stop-opacity="0.08"/><stop offset="1.00" stop-color="#ffc800" stop-opacity="0.00"/></radialGradient>
<radialGradient id="g82"><stop offset="0.00" stop-color="#ff4600" stop-opacity="0.90"/><stop offset="0.20" stop-color="#ff4600" stop-opacity="0.81"/><stop offset="0.40" stop-color="#ff4600" stop-opacity="0.56"/><stop offset="0.60" stop-color="#ff4600" stop-opacity="0.29"/><stop offset="0.80" stop-color="#ff4600" stop-opacity="0.09"/><stop offset="1.00" stop-color="#ff4600" stop-opacity="0.00"/></radialGradient>
<radialGradient id="g83"><stop offset="0.00" stop-color="#ffc000" stop-opacity="0.80"/><stop offset="0.20" stop-color="#ffc000" stop-opacity="0.72"/><stop offset="0.40" stop-color="#ffc000" stop-opacity="0.50"/><stop offset="0.60" stop-color="#ffc000" stop-opacity="0.26"/><stop offset="0.80" stop-color="#ffc000" stop-opacity="0.08"/><stop offset="1.00" stop-color="#ffc000" stop-opacity="0.00"/></radialGradient>
<radialGradient id="g84"><stop offset="0.00" stop-color="#ff1000" stop-opacity="1.00"/><stop offset="0.45" stop-color="#ff1000" stop-opacity="1.00"/><stop offset="0.70" stop-color="#ff1000" stop-opacity="0.60"/><stop offset="0.88" stop-color="#ff1000" stop-opacity="0.18"/><stop offset="1.00" stop-color="#ff1000" stop-opacity="0.00"/></radialGradient>
<radialGradient id="g85"><stop offset="0.00" stop-color="#ffc000" stop-opacity="0.90"/><stop offset="0.20" stop-color="#ffc000" stop-opacity="0.81"/><stop offset="0.40" stop-color="#ffc000" stop-opacity="0.56"/><stop offset="0.60" stop-color="#ffc000" stop-opacity="0.29"/><stop offset="0.80" stop-color="#ffc000" stop-opacity="0.09"/><stop offset="1.00" stop-color="#ffc000" stop-opacity="0.00"/></radialGradient>
<radialGradient id="g86"><stop offset="0.00" stop-color="#ffc800" stop-opacity="0.95"/><stop offset="0.20" stop-color="#ffc800" stop-opacity="0.85"/><stop offset="0.40" stop-color="#ffc800" stop-opacity="0.59"/><stop offset="0.60" stop-color="#ffc800" stop-opacity="0.30"/><stop offset="0.80" stop-color="#ffc800" stop-opacity="0.10"/><stop offset="1.00" stop-color="#ffc800" stop-opacity="0.00"/></radialGradient>
</defs>
<rect width="550" height="437" fill="#fff"/>
<g transform="translate(0.0,0.0)">
<g clip-path="url(#rw)" filter="url(#bl)">
<rect x="20" y="15" width="215" height="185" fill="#ff8400"/>
<ellipse cx="192.0" cy="108.0" rx="78.0" ry="72.0" fill="url(#g1)"/>
<ellipse cx="120.0" cy="76.0" rx="44.0" ry="22.0" fill="url(#g2)" transform="rotate(-12 120.0 76.0)"/>
<ellipse cx="141.0" cy="74.5" rx="18.0" ry="18.0" fill="url(#g3)"/>
<ellipse cx="110.6" cy="59.0" rx="8.0" ry="8.0" fill="url(#g4)"/>
<ellipse cx="169.0" cy="44.0" rx="30.0" ry="30.0" fill="url(#g5)"/>
<ellipse cx="80.0" cy="118.0" rx="24.0" ry="24.0" fill="url(#g6)"/>
<ellipse cx="94.0" cy="158.0" rx="31.0" ry="31.0" fill="url(#g7)"/>
<ellipse cx="108.0" cy="80.0" rx="13.0" ry="13.0" fill="url(#g8)"/>
<ellipse cx="126.0" cy="93.0" rx="28.0" ry="11.0" fill="url(#g9)" transform="rotate(18 126.0 93.0)"/>
<ellipse cx="156.0" cy="104.0" rx="18.0" ry="18.0" fill="url(#g10)"/>
<ellipse cx="168.0" cy="106.0" rx="13.0" ry="13.0" fill="url(#g11)"/>
<ellipse cx="142.0" cy="110.0" rx="7.0" ry="7.0" fill="url(#g12)"/>
<ellipse cx="179.0" cy="106.0" rx="8.0" ry="8.0" fill="url(#g13)"/>
<ellipse cx="175.0" cy="126.0" rx="11.0" ry="11.0" fill="url(#g14)"/>
<ellipse cx="185.0" cy="128.0" rx="8.0" ry="8.0" fill="url(#g15)"/>
<ellipse cx="170.0" cy="139.0" rx="15.0" ry="15.0" fill="url(#g16)"/>
<ellipse cx="38.0" cy="176.0" rx="16.0" ry="16.0" fill="url(#g17)"/>
<ellipse cx="117.0" cy="120.0" rx="25.0" ry="25.0" fill="url(#g18)"/>
<ellipse cx="160.0" cy="136.0" rx="34.0" ry="24.0" fill="url(#g19)"/>
</g>
<g fill="none" stroke="#1a0e00" stroke-width="1.15" stroke-linejoin="round">
<path d="M54.0 100.0 L54.8 97.9 L55.7 95.8 L57.0 94.0 L58.8 91.8 L60.0 89.1 L62.0 87.0 L63.3 85.0 L64.4 82.9 L65.3 80.7 L67.0 79.0 L68.7 76.7 L69.9 74.0 L72.0 72.0 L73.3 70.2 L74.3 68.1 L76.0 66.6 L77.9 65.9 L80.0 66.0 L82.5 65.9 L85.0 66.0 L86.9 64.2 L88.0 61.7 L90.0 60.0 L91.5 58.3 L93.4 57.2 L95.0 55.6 L97.3 55.7 L99.5 54.9 L101.7 54.3 L104.0 54.0 L107.2 53.5 L110.0 52.0 L113.1 52.0 L116.0 53.0 L117.8 50.7 L119.0 48.0 L122.0 47.6 L123.2 49.2 L124.0 51.0 L126.0 54.0 L127.4 56.9 L128.0 60.0 L130.0 63.0 L131.8 61.4 L133.9 60.3 L136.2 59.5 L138.0 58.0 L139.8 56.7 L142.0 56.1 L144.0 55.0 L146.6 53.6 L149.0 52.0 L151.4 50.4 L154.0 49.0 L154.6 46.5 L155.0 44.0 L157.2 41.6 L160.0 40.0 L161.7 38.0 L163.8 36.4 L166.0 35.0 L167.7 32.6 L169.0 30.0 L170.4 27.2 L172.0 24.4 L175.0 23.8 L178.0 23.6 L180.2 23.1 L182.4 22.4 L183.0 24.7 L183.6 27.0 L184.9 29.2 L185.5 31.6 L186.7 33.8 L188.0 36.0 L189.3 38.9 L190.0 42.0 L191.3 44.0 L192.6 46.0 L194.0 48.0 L195.7 50.8 L198.0 53.0 L200.2 54.9 L202.8 56.1 L205.0 58.0 L207.0 61.0 L207.5 64.2 L209.0 67.0 L210.7 69.1 L211.7 71.6 L213.0 74.0 L214.3 76.2 L216.0 78.0 L217.2 79.9 L217.6 82.0 L217.0 84.0 L216.4 86.0 L217.3 88.6 L217.0 91.4 L217.6 94.0 L217.2 96.7 L217.2 99.5 L216.7 102.2 L217.0 105.0 L218.2 107.9 L219.0 111.0 L219.8 113.1 L220.9 115.0 L222.0 117.0 L222.4 119.5 L223.0 122.0 L222.0 124.0 L221.0 126.0 L219.7 127.8 L219.0 130.0 L218.0 132.4 L218.0 135.0 L218.5 137.5 L219.0 140.0 L217.8 142.4 L217.0 145.0 L215.3 147.3 L213.0 149.0 L211.0 149.0 L209.0 149.4 L206.0 148.6 L204.4 150.7 L203.0 153.0 L200.4 153.0 L198.0 154.0 L195.1 153.2 L192.0 153.0 L189.4 152.2 L187.0 151.0 L184.9 149.6 L183.0 148.0 L181.6 146.4 L180.0 145.0 L177.0 144.0 L175.0 146.0 L172.5 146.5 L170.0 146.0 L167.5 147.3 L165.0 148.6 L162.6 149.7 L160.0 150.0 L158.3 152.3 L156.0 154.0 L153.1 155.2 L150.0 155.4 L148.2 153.9 L146.0 153.0 L143.7 151.3 L142.0 149.0 L139.4 148.3 L137.0 147.0 L133.3 146.0 L133.4 148.1 L133.3 150.2 L133.3 153.2 L134.1 156.1 L133.8 159.2 L132.6 162.0 L131.5 164.2 L130.4 166.4 L130.3 168.6 L130.4 170.7 L130.4 173.7 L131.2 176.6 L130.1 179.1 L129.7 181.7 L127.5 184.7 L125.4 185.5 L123.8 186.9 L121.6 187.5 L119.4 187.6 L115.8 188.3 L113.6 191.2 L109.9 192.0 L107.7 191.7 L105.5 191.2 L103.3 191.0 L101.1 190.5 L98.8 190.4 L96.7 191.2 L94.7 191.5 L93.0 192.7 L89.4 192.7 L87.0 191.9 L85.0 190.5 L82.9 191.6 L80.6 192.0 L78.4 192.6 L76.2 192.7 L74.8 190.3 L74.0 187.6 L74.8 183.9 L74.4 181.7 L74.0 179.5 L72.3 177.6 L70.4 175.9 L68.0 175.2 L65.9 174.0 L63.8 174.9 L61.5 174.8 L59.3 173.8 L57.1 172.6 L53.5 171.9 L51.3 172.4 L49.1 172.6 L47.6 174.0 L46.2 175.5 L45.3 178.0 L45.4 180.6 L44.7 184.3 L41.8 182.1 L38.8 179.9 L35.2 179.2 L33.5 177.5 L31.5 176.2 L31.5 174.1 L31.5 171.9 L30.5 170.0 L29.3 168.2 L28.8 166.3 L27.9 164.5 L30.0 162.3 L28.6 158.7 L28.1 156.1 L28.6 153.5 L30.8 150.6 L33.8 150.7 L36.6 149.9 L38.0 148.2 L38.8 146.2 L40.3 144.2 L41.0 141.8 L43.3 141.4 L45.4 140.4 L47.5 138.8 L49.8 137.4 L51.5 135.6 L53.0 133.7 L55.0 132.3 L56.1 129.9 L56.5 127.3 L57.9 125.0 L57.5 123.0 L58.0 121.0 L57.2 118.1 L57.0 115.0 L56.0 112.8 L55.5 110.4 L55.0 108.0 L54.2 105.4 L53.8 102.7 Z" stroke-width="1.25"/>
<path d="M85.0 66.0 L86.8 67.8 L88.0 70.0 L90.2 70.6 L92.1 71.9 L94.0 73.0 L97.1 73.0 L100.0 74.0 L100.6 77.1 L102.0 80.0 L102.4 83.0 L103.0 86.0 L104.8 87.2 L106.0 89.0"/>
<path d="M106.0 89.0 L108.1 89.2 L110.0 90.0 L111.6 91.9 L113.0 94.0 L115.1 95.9 L117.0 98.0 L119.2 98.6 L120.8 100.3 L123.0 101.0 L125.9 102.0 L129.0 102.0 L131.0 103.5 L133.0 105.0 L136.0 107.0"/>
<path d="M106.0 89.0 L106.0 91.3 L106.5 93.7 L106.0 96.0 L106.1 98.7 L105.5 101.4 L105.0 104.0 L104.9 106.4 L104.0 108.6 L104.0 111.0 L102.8 113.7 L101.0 116.0 L101.2 118.7 L99.8 121.3 L100.0 124.0 L99.6 127.0 L98.8 129.3 L98.1 131.6 L96.1 133.0 L93.7 133.8 L91.5 134.9 L89.3 136.0 L86.6 137.9 L83.5 138.9 L81.3 139.6 L78.9 139.9 L76.9 141.1 L74.5 141.8 L72.5 143.3 L71.5 146.2 L71.0 149.2 L71.7 151.3 L71.8 153.5 L68.9 155.7 L68.3 157.6 L67.4 159.4 L69.5 160.9 L71.0 163.0 L71.8 165.4 L73.2 167.5 L74.3 170.4 L75.4 173.3 L74.6 175.6 L74.5 178.0"/>
<path d="M136.0 100.0 L137.9 98.8 L140.0 98.0 L142.4 97.2 L145.0 97.0 L147.7 95.3 L150.0 93.0 L151.9 94.0 L154.0 94.0 L156.3 96.3 L159.0 98.0 L160.3 99.7 L162.0 101.0 L162.2 104.1 L163.0 107.0 L161.3 109.4 L160.0 112.0 L159.3 114.1 L158.0 116.0 L157.5 118.5 L157.0 121.0 L154.9 119.6 L153.0 118.0 L150.0 118.5 L147.0 118.0 L144.7 119.5 L142.0 120.0 L139.9 119.7 L138.0 119.0 L137.2 116.6 L137.0 114.0 L136.9 111.6 L136.8 109.3 L136.0 107.0 L135.9 104.7 L136.5 102.3 L136.0 100.0"/>
<path d="M144.0 55.0 L145.0 57.8 L147.0 60.0 L147.9 62.6 L149.8 64.6 L151.0 67.0 L154.0 68.0 L153.0 71.0 L154.8 73.3 L156.0 76.0 L157.6 77.8 L158.9 79.8 L160.0 82.0 L161.3 83.9 L162.0 86.0 L161.9 89.0 L162.0 92.0 L160.6 93.8 L160.0 96.0 L160.7 98.6 L162.0 101.0"/>
<path d="M138.0 119.5 L137.7 122.3 L137.2 125.1 L137.0 128.0 L136.0 130.6 L136.1 133.4 L135.0 136.0 L134.4 138.5 L133.7 140.9 L133.4 143.4 L133.3 146.0"/>
</g></g>
<rect x="21.8" y="20.3" width="248.7" height="190.2" fill="none" stroke="#111" stroke-width="1.3"/>
<path d="M40.6 16.3 V20.3 M40.6 210.5 V215.0 M137.0 16.3 V20.3 M137.0 210.5 V215.0 M233.3 16.3 V20.3 M233.3 210.5 V215.0 M17.8 113.3 H21.8 M270.5 113.3 H274.5 M17.8 210.3 H21.8 M270.5 210.3 H274.5" stroke="#111" stroke-width="1.1" fill="none"/>
<text transform="translate(40.6,11.6) scale(0.87,1)" font-size="9" text-anchor="middle">29°0'0&quot;E</text>
<text transform="translate(137.0,11.6) scale(0.87,1)" font-size="9" text-anchor="middle">30°0'0&quot;E</text>
<text transform="translate(233.3,11.6) scale(0.87,1)" font-size="9" text-anchor="middle">31°0'0&quot;E</text>
<text transform="translate(13.0,113.3) rotate(-90) scale(0.87,1)" font-size="9" text-anchor="middle">2°0'0&quot;S</text>
<text transform="translate(13.0,210.3) rotate(-90) scale(0.87,1)" font-size="9" text-anchor="middle">3°0'0&quot;S</text>
<text transform="translate(27.0,33.2) scale(0.92,1)" font-size="13.5" fill="#1c1c24" style="stroke:#1c1c24;stroke-width:.35px">(a)</text>
<text x="258.3" y="33.4" font-size="9.8" text-anchor="middle" fill="#10182c" style="stroke:#10182c;stroke-width:.5px">N</text>
<path d="M258.3 37.0 L265.3 60.0 L258.3 52.4 L251.3 60.0 Z" fill="#fff" stroke="#0a1020" stroke-width="0.9" stroke-linejoin="miter"/>
<path d="M258.3 37.0 L258.3 52.4 L251.3 60.0 Z" fill="#0a0a10"/>
<rect x="30.2" y="197.0" width="104" height="4.6" fill="#050505"/>
<rect x="36.7" y="197.9" width="6.5" height="2.8" fill="#fff"/>
<rect x="49.7" y="197.9" width="6.5" height="2.8" fill="#fff"/>
<rect x="82.2" y="197.9" width="26.0" height="2.8" fill="#fff"/>
<text transform="translate(30.2,210.1) scale(0.92,1)" font-size="8.6" text-anchor="middle">0</text>
<text transform="translate(43.2,210.1) scale(0.92,1)" font-size="8.6" text-anchor="middle">15</text>
<text transform="translate(56.2,210.1) scale(0.92,1)" font-size="8.6" text-anchor="middle">30</text>
<text transform="translate(82.2,210.1) scale(0.92,1)" font-size="8.6" text-anchor="middle">60</text>
<text transform="translate(108.2,210.1) scale(0.92,1)" font-size="8.6" text-anchor="middle">90</text>
<text transform="translate(134.2,210.1) scale(0.92,1)" font-size="8.6" text-anchor="middle">120</text>
<text transform="translate(135.7,201.0) scale(0.9,1)" font-size="8.8">Km</text>
<text transform="translate(191.7,166.4) scale(0.9,1)" font-size="8.7" font-weight="bold" fill="#1a2030">Intensity</text>
<text transform="translate(191.7,178.5) scale(0.9,1)" font-size="8.8">Value</text>
<rect x="191.7" y="183.3" width="15.6" height="16.4" fill="url(#lg)"/>
<path d="M207.3 183.7 h1.2 M207.3 191.5 h1.2 M207.3 199.3 h1.2" stroke="#333" stroke-width="0.7"/>
<text transform="translate(211.6,186.3) scale(0.935,1)" font-size="8.5">High : -1.36494</text>
<text transform="translate(211.6,202.3) scale(0.935,1)" font-size="8.5">Low : -1.52583</text>
<g transform="translate(265.0,-0.5)">
<g clip-path="url(#rw)" filter="url(#bl)">
<rect x="20" y="15" width="215" height="185" fill="#ff9800"/>
<ellipse cx="190.0" cy="60.5" rx="40.0" ry="40.0" fill="url(#g20)"/>
<ellipse cx="183.0" cy="137.5" rx="62.0" ry="30.0" fill="url(#g21)"/>
<ellipse cx="91.0" cy="78.5" rx="42.0" ry="24.0" fill="url(#g22)" transform="rotate(-12 91.0 78.5)"/>
<ellipse cx="75.0" cy="76.5" rx="18.0" ry="18.0" fill="url(#g23)"/>
<ellipse cx="109.0" cy="57.5" rx="11.0" ry="11.0" fill="url(#g24)"/>
<ellipse cx="121.8" cy="54.5" rx="8.0" ry="8.0" fill="url(#g25)"/>
<ellipse cx="123.0" cy="84.5" rx="21.0" ry="21.0" fill="url(#g26)"/>
<ellipse cx="142.0" cy="74.9" rx="13.0" ry="13.0" fill="url(#g27)"/>
<ellipse cx="179.7" cy="92.3" rx="21.0" ry="21.0" fill="url(#g28)"/>
<ellipse cx="146.0" cy="101.5" rx="9.0" ry="9.0" fill="url(#g29)"/>
<ellipse cx="154.0" cy="104.2" rx="8.0" ry="8.0" fill="url(#g30)"/>
<ellipse cx="148.0" cy="111.0" rx="6.0" ry="6.0" fill="url(#g31)"/>
<ellipse cx="167.0" cy="106.3" rx="12.0" ry="12.0" fill="url(#g32)"/>
<ellipse cx="116.0" cy="120.0" rx="9.0" ry="9.0" fill="url(#g33)"/>
<ellipse cx="130.0" cy="118.5" rx="16.0" ry="16.0" fill="url(#g34)"/>
<ellipse cx="107.8" cy="129.8" rx="21.0" ry="21.0" fill="url(#g35)"/>
<ellipse cx="178.4" cy="126.5" rx="13.0" ry="13.0" fill="url(#g36)"/>
<ellipse cx="150.0" cy="134.5" rx="20.0" ry="20.0" fill="url(#g37)"/>
<ellipse cx="93.8" cy="157.5" rx="19.0" ry="19.0" fill="url(#g38)"/>
<ellipse cx="79.8" cy="166.5" rx="9.0" ry="9.0" fill="url(#g39)"/>
<ellipse cx="38.0" cy="173.5" rx="21.0" ry="21.0" fill="url(#g40)"/>
<ellipse cx="73.0" cy="106.5" rx="38.0" ry="34.0" fill="url(#g41)"/>
<ellipse cx="99.0" cy="66.5" rx="17.0" ry="17.0" fill="url(#g42)"/>
<ellipse cx="65.0" cy="135.5" rx="22.0" ry="22.0" fill="url(#g43)"/>
</g>
<g fill="none" stroke="#1a0e00" stroke-width="1.15" stroke-linejoin="round">
<path d="M54.0 100.0 L54.8 97.9 L55.7 95.8 L57.0 94.0 L58.8 91.8 L60.0 89.1 L62.0 87.0 L63.3 85.0 L64.4 82.9 L65.3 80.7 L67.0 79.0 L68.7 76.7 L69.9 74.0 L72.0 72.0 L73.3 70.2 L74.3 68.1 L76.0 66.6 L77.9 65.9 L80.0 66.0 L82.5 65.9 L85.0 66.0 L86.9 64.2 L88.0 61.7 L90.0 60.0 L91.5 58.3 L93.4 57.2 L95.0 55.6 L97.3 55.7 L99.5 54.9 L101.7 54.3 L104.0 54.0 L107.2 53.5 L110.0 52.0 L113.1 52.0 L116.0 53.0 L117.8 50.7 L119.0 48.0 L122.0 47.6 L123.2 49.2 L124.0 51.0 L126.0 54.0 L127.4 56.9 L128.0 60.0 L130.0 63.0 L131.8 61.4 L133.9 60.3 L136.2 59.5 L138.0 58.0 L139.8 56.7 L142.0 56.1 L144.0 55.0 L146.6 53.6 L149.0 52.0 L151.4 50.4 L154.0 49.0 L154.6 46.5 L155.0 44.0 L157.2 41.6 L160.0 40.0 L161.7 38.0 L163.8 36.4 L166.0 35.0 L167.7 32.6 L169.0 30.0 L170.4 27.2 L172.0 24.4 L175.0 23.8 L178.0 23.6 L180.2 23.1 L182.4 22.4 L183.0 24.7 L183.6 27.0 L184.9 29.2 L185.5 31.6 L186.7 33.8 L188.0 36.0 L189.3 38.9 L190.0 42.0 L191.3 44.0 L192.6 46.0 L194.0 48.0 L195.7 50.8 L198.0 53.0 L200.2 54.9 L202.8 56.1 L205.0 58.0 L207.0 61.0 L207.5 64.2 L209.0 67.0 L210.7 69.1 L211.7 71.6 L213.0 74.0 L214.3 76.2 L216.0 78.0 L217.2 79.9 L217.6 82.0 L217.0 84.0 L216.4 86.0 L217.3 88.6 L217.0 91.4 L217.6 94.0 L217.2 96.7 L217.2 99.5 L216.7 102.2 L217.0 105.0 L218.2 107.9 L219.0 111.0 L219.8 113.1 L220.9 115.0 L222.0 117.0 L222.4 119.5 L223.0 122.0 L222.0 124.0 L221.0 126.0 L219.7 127.8 L219.0 130.0 L218.0 132.4 L218.0 135.0 L218.5 137.5 L219.0 140.0 L217.8 142.4 L217.0 145.0 L215.3 147.3 L213.0 149.0 L211.0 149.0 L209.0 149.4 L206.0 148.6 L204.4 150.7 L203.0 153.0 L200.4 153.0 L198.0 154.0 L195.1 153.2 L192.0 153.0 L189.4 152.2 L187.0 151.0 L184.9 149.6 L183.0 148.0 L181.6 146.4 L180.0 145.0 L177.0 144.0 L175.0 146.0 L172.5 146.5 L170.0 146.0 L167.5 147.3 L165.0 148.6 L162.6 149.7 L160.0 150.0 L158.3 152.3 L156.0 154.0 L153.1 155.2 L150.0 155.4 L148.2 153.9 L146.0 153.0 L143.7 151.3 L142.0 149.0 L139.4 148.3 L137.0 147.0 L133.3 146.0 L133.4 148.1 L133.3 150.2 L133.3 153.2 L134.1 156.1 L133.8 159.2 L132.6 162.0 L131.5 164.2 L130.4 166.4 L130.3 168.6 L130.4 170.7 L130.4 173.7 L131.2 176.6 L130.1 179.1 L129.7 181.7 L127.5 184.7 L125.4 185.5 L123.8 186.9 L121.6 187.5 L119.4 187.6 L115.8 188.3 L113.6 191.2 L109.9 192.0 L107.7 191.7 L105.5 191.2 L103.3 191.0 L101.1 190.5 L98.8 190.4 L96.7 191.2 L94.7 191.5 L93.0 192.7 L89.4 192.7 L87.0 191.9 L85.0 190.5 L82.9 191.6 L80.6 192.0 L78.4 192.6 L76.2 192.7 L74.8 190.3 L74.0 187.6 L74.8 183.9 L74.4 181.7 L74.0 179.5 L72.3 177.6 L70.4 175.9 L68.0 175.2 L65.9 174.0 L63.8 174.9 L61.5 174.8 L59.3 173.8 L57.1 172.6 L53.5 171.9 L51.3 172.4 L49.1 172.6 L47.6 174.0 L46.2 175.5 L45.3 178.0 L45.4 180.6 L44.7 184.3 L41.8 182.1 L38.8 179.9 L35.2 179.2 L33.5 177.5 L31.5 176.2 L31.5 174.1 L31.5 171.9 L30.5 170.0 L29.3 168.2 L28.8 166.3 L27.9 164.5 L30.0 162.3 L28.6 158.7 L28.1 156.1 L28.6 153.5 L30.8 150.6 L33.8 150.7 L36.6 149.9 L38.0 148.2 L38.8 146.2 L40.3 144.2 L41.0 141.8 L43.3 141.4 L45.4 140.4 L47.5 138.8 L49.8 137.4 L51.5 135.6 L53.0 133.7 L55.0 132.3 L56.1 129.9 L56.5 127.3 L57.9 125.0 L57.5 123.0 L58.0 121.0 L57.2 118.1 L57.0 115.0 L56.0 112.8 L55.5 110.4 L55.0 108.0 L54.2 105.4 L53.8 102.7 Z" stroke-width="1.25"/>
<path d="M85.0 66.0 L86.8 67.8 L88.0 70.0 L90.2 70.6 L92.1 71.9 L94.0 73.0 L97.1 73.0 L100.0 74.0 L100.6 77.1 L102.0 80.0 L102.4 83.0 L103.0 86.0 L104.8 87.2 L106.0 89.0"/>
<path d="M106.0 89.0 L108.1 89.2 L110.0 90.0 L111.6 91.9 L113.0 94.0 L115.1 95.9 L117.0 98.0 L119.2 98.6 L120.8 100.3 L123.0 101.0 L125.9 102.0 L129.0 102.0 L131.0 103.5 L133.0 105.0 L136.0 107.0"/>
<path d="M106.0 89.0 L106.0 91.3 L106.5 93.7 L106.0 96.0 L106.1 98.7 L105.5 101.4 L105.0 104.0 L104.9 106.4 L104.0 108.6 L104.0 111.0 L102.8 113.7 L101.0 116.0 L101.2 118.7 L99.8 121.3 L100.0 124.0 L99.6 127.0 L98.8 129.3 L98.1 131.6 L96.1 133.0 L93.7 133.8 L91.5 134.9 L89.3 136.0 L86.6 137.9 L83.5 138.9 L81.3 139.6 L78.9 139.9 L76.9 141.1 L74.5 141.8 L72.5 143.3 L71.5 146.2 L71.0 149.2 L71.7 151.3 L71.8 153.5 L68.9 155.7 L68.3 157.6 L67.4 159.4 L69.5 160.9 L71.0 163.0 L71.8 165.4 L73.2 167.5 L74.3 170.4 L75.4 173.3 L74.6 175.6 L74.5 178.0"/>
<path d="M136.0 100.0 L137.9 98.8 L140.0 98.0 L142.4 97.2 L145.0 97.0 L147.7 95.3 L150.0 93.0 L151.9 94.0 L154.0 94.0 L156.3 96.3 L159.0 98.0 L160.3 99.7 L162.0 101.0 L162.2 104.1 L163.0 107.0 L161.3 109.4 L160.0 112.0 L159.3 114.1 L158.0 116.0 L157.5 118.5 L157.0 121.0 L154.9 119.6 L153.0 118.0 L150.0 118.5 L147.0 118.0 L144.7 119.5 L142.0 120.0 L139.9 119.7 L138.0 119.0 L137.2 116.6 L137.0 114.0 L136.9 111.6 L136.8 109.3 L136.0 107.0 L135.9 104.7 L136.5 102.3 L136.0 100.0"/>
<path d="M144.0 55.0 L145.0 57.8 L147.0 60.0 L147.9 62.6 L149.8 64.6 L151.0 67.0 L154.0 68.0 L153.0 71.0 L154.8 73.3 L156.0 76.0 L157.6 77.8 L158.9 79.8 L160.0 82.0 L161.3 83.9 L162.0 86.0 L161.9 89.0 L162.0 92.0 L160.6 93.8 L160.0 96.0 L160.7 98.6 L162.0 101.0"/>
<path d="M138.0 119.5 L137.7 122.3 L137.2 125.1 L137.0 128.0 L136.0 130.6 L136.1 133.4 L135.0 136.0 L134.4 138.5 L133.7 140.9 L133.4 143.4 L133.3 146.0"/>
</g></g>
<rect x="281.3" y="20.3" width="248.7" height="189.7" fill="none" stroke="#111" stroke-width="1.3"/>
<path d="M305.3 16.3 V20.3 M305.3 210.0 V214.5 M401.8 16.3 V20.3 M401.8 210.0 V214.5 M498.5 16.3 V20.3 M498.5 210.0 V214.5 M277.3 113.0 H281.3 M530.0 113.0 H534.0 M277.3 210.3 H281.3 M530.0 210.3 H534.0" stroke="#111" stroke-width="1.1" fill="none"/>
<text transform="translate(305.3,11.6) scale(0.87,1)" font-size="9" text-anchor="middle">29°0'0&quot;E</text>
<text transform="translate(401.8,11.6) scale(0.87,1)" font-size="9" text-anchor="middle">30°0'0&quot;E</text>
<text transform="translate(498.5,11.6) scale(0.87,1)" font-size="9" text-anchor="middle">31°0'0&quot;E</text>
<text transform="translate(545.2,113.0) rotate(-90) scale(0.87,1)" font-size="9" text-anchor="middle">2°0'0&quot;S</text>
<text transform="translate(545.2,210.3) rotate(-90) scale(0.87,1)" font-size="9" text-anchor="middle">3°0'0&quot;S</text>
<text transform="translate(285.3,34.3) scale(0.92,1)" font-size="13.5" fill="#1c1c24" style="stroke:#1c1c24;stroke-width:.35px">(b)</text>
<text x="516.5" y="30.2" font-size="9.8" text-anchor="middle" fill="#10182c" style="stroke:#10182c;stroke-width:.5px">N</text>
<path d="M516.5 33.8 L523.5 56.8 L516.5 49.2 L509.5 56.8 Z" fill="#fff" stroke="#0a1020" stroke-width="0.9" stroke-linejoin="miter"/>
<path d="M516.5 33.8 L516.5 49.2 L509.5 56.8 Z" fill="#0a0a10"/>
<rect x="295.3" y="196.6" width="104" height="4.6" fill="#050505"/>
<rect x="301.8" y="197.5" width="6.5" height="2.8" fill="#fff"/>
<rect x="314.8" y="197.5" width="6.5" height="2.8" fill="#fff"/>
<rect x="347.3" y="197.5" width="26.0" height="2.8" fill="#fff"/>
<text transform="translate(295.3,209.7) scale(0.92,1)" font-size="8.6" text-anchor="middle">0</text>
<text transform="translate(308.3,209.7) scale(0.92,1)" font-size="8.6" text-anchor="middle">15</text>
<text transform="translate(321.3,209.7) scale(0.92,1)" font-size="8.6" text-anchor="middle">30</text>
<text transform="translate(347.3,209.7) scale(0.92,1)" font-size="8.6" text-anchor="middle">60</text>
<text transform="translate(373.3,209.7) scale(0.92,1)" font-size="8.6" text-anchor="middle">90</text>
<text transform="translate(399.3,209.7) scale(0.92,1)" font-size="8.6" text-anchor="middle">120</text>
<text transform="translate(400.8,200.6) scale(0.9,1)" font-size="8.8">Km</text>
<text transform="translate(449.0,163.0) scale(0.9,1)" font-size="8.7" font-weight="bold" fill="#1a2030">Severity</text>
<text transform="translate(449.0,171.6) scale(0.9,1)" font-size="8.8">Value</text>
<rect x="449.5" y="177.3" width="12.6" height="20.7" fill="url(#lg)"/>
<path d="M462.1 177.7 h1.2 M462.1 187.7 h1.2 M462.1 197.6 h1.2" stroke="#333" stroke-width="0.7"/>
<text transform="translate(465.6,180.2) scale(0.935,1)" font-size="8.5">High : -2.03003</text>
<text transform="translate(465.6,201.5) scale(0.935,1)" font-size="8.5">Low : -3.28165</text>
<g transform="translate(-0.3,206.3)">
<g clip-path="url(#rw)" filter="url(#bl)">
<rect x="20" y="15" width="215" height="185" fill="#ff7400"/>
<ellipse cx="192.3" cy="128.7" rx="58.0" ry="50.0" fill="url(#g44)"/>
<ellipse cx="172.3" cy="49.7" rx="44.0" ry="40.0" fill="url(#g45)"/>
<ellipse cx="169.3" cy="40.7" rx="26.0" ry="26.0" fill="url(#g46)"/>
<ellipse cx="214.3" cy="93.7" rx="30.0" ry="40.0" fill="url(#g47)"/>
<ellipse cx="85.3" cy="85.7" rx="36.0" ry="36.0" fill="url(#g48)"/>
<ellipse cx="101.8" cy="72.7" rx="30.0" ry="13.0" fill="url(#g49)" transform="rotate(55 101.8 72.7)"/>
<ellipse cx="97.3" cy="59.7" rx="14.0" ry="14.0" fill="url(#g50)"/>
<ellipse cx="120.7" cy="57.7" rx="8.0" ry="8.0" fill="url(#g51)"/>
<ellipse cx="140.8" cy="74.2" rx="22.0" ry="22.0" fill="url(#g52)"/>
<ellipse cx="141.8" cy="109.0" rx="9.0" ry="9.0" fill="url(#g53)"/>
<ellipse cx="150.3" cy="102.3" rx="6.0" ry="6.0" fill="url(#g54)"/>
<ellipse cx="115.6" cy="119.7" rx="26.0" ry="26.0" fill="url(#g55)"/>
<ellipse cx="115.6" cy="119.7" rx="14.0" ry="14.0" fill="url(#g56)"/>
<ellipse cx="80.0" cy="118.2" rx="20.0" ry="20.0" fill="url(#g57)"/>
<ellipse cx="109.3" cy="130.7" rx="7.0" ry="7.0" fill="url(#g58)"/>
<ellipse cx="100.3" cy="167.7" rx="42.0" ry="30.0" fill="url(#g59)"/>
<ellipse cx="94.0" cy="159.5" rx="26.0" ry="26.0" fill="url(#g60)"/>
<ellipse cx="62.3" cy="145.7" rx="28.0" ry="28.0" fill="url(#g61)"/>
<ellipse cx="40.8" cy="174.7" rx="20.0" ry="20.0" fill="url(#g62)"/>
<ellipse cx="175.3" cy="128.7" rx="19.0" ry="19.0" fill="url(#g63)"/>
<ellipse cx="166.3" cy="143.7" rx="15.0" ry="15.0" fill="url(#g64)"/>
<ellipse cx="186.8" cy="127.1" rx="7.0" ry="7.0" fill="url(#g65)"/>
<ellipse cx="178.7" cy="92.7" rx="16.0" ry="16.0" fill="url(#g66)"/>
</g>
<g fill="none" stroke="#1a0e00" stroke-width="1.15" stroke-linejoin="round">
<path d="M54.0 100.0 L54.8 97.9 L55.7 95.8 L57.0 94.0 L58.8 91.8 L60.0 89.1 L62.0 87.0 L63.3 85.0 L64.4 82.9 L65.3 80.7 L67.0 79.0 L68.7 76.7 L69.9 74.0 L72.0 72.0 L73.3 70.2 L74.3 68.1 L76.0 66.6 L77.9 65.9 L80.0 66.0 L82.5 65.9 L85.0 66.0 L86.9 64.2 L88.0 61.7 L90.0 60.0 L91.5 58.3 L93.4 57.2 L95.0 55.6 L97.3 55.7 L99.5 54.9 L101.7 54.3 L104.0 54.0 L107.2 53.5 L110.0 52.0 L113.1 52.0 L116.0 53.0 L117.8 50.7 L119.0 48.0 L122.0 47.6 L123.2 49.2 L124.0 51.0 L126.0 54.0 L127.4 56.9 L128.0 60.0 L130.0 63.0 L131.8 61.4 L133.9 60.3 L136.2 59.5 L138.0 58.0 L139.8 56.7 L142.0 56.1 L144.0 55.0 L146.6 53.6 L149.0 52.0 L151.4 50.4 L154.0 49.0 L154.6 46.5 L155.0 44.0 L157.2 41.6 L160.0 40.0 L161.7 38.0 L163.8 36.4 L166.0 35.0 L167.7 32.6 L169.0 30.0 L170.4 27.2 L172.0 24.4 L175.0 23.8 L178.0 23.6 L180.2 23.1 L182.4 22.4 L183.0 24.7 L183.6 27.0 L184.9 29.2 L185.5 31.6 L186.7 33.8 L188.0 36.0 L189.3 38.9 L190.0 42.0 L191.3 44.0 L192.6 46.0 L194.0 48.0 L195.7 50.8 L198.0 53.0 L200.2 54.9 L202.8 56.1 L205.0 58.0 L207.0 61.0 L207.5 64.2 L209.0 67.0 L210.7 69.1 L211.7 71.6 L213.0 74.0 L214.3 76.2 L216.0 78.0 L217.2 79.9 L217.6 82.0 L217.0 84.0 L216.4 86.0 L217.3 88.6 L217.0 91.4 L217.6 94.0 L217.2 96.7 L217.2 99.5 L216.7 102.2 L217.0 105.0 L218.2 107.9 L219.0 111.0 L219.8 113.1 L220.9 115.0 L222.0 117.0 L222.4 119.5 L223.0 122.0 L222.0 124.0 L221.0 126.0 L219.7 127.8 L219.0 130.0 L218.0 132.4 L218.0 135.0 L218.5 137.5 L219.0 140.0 L217.8 142.4 L217.0 145.0 L215.3 147.3 L213.0 149.0 L211.0 149.0 L209.0 149.4 L206.0 148.6 L204.4 150.7 L203.0 153.0 L200.4 153.0 L198.0 154.0 L195.1 153.2 L192.0 153.0 L189.4 152.2 L187.0 151.0 L184.9 149.6 L183.0 148.0 L181.6 146.4 L180.0 145.0 L177.0 144.0 L175.0 146.0 L172.5 146.5 L170.0 146.0 L167.5 147.3 L165.0 148.6 L162.6 149.7 L160.0 150.0 L158.3 152.3 L156.0 154.0 L153.1 155.2 L150.0 155.4 L148.2 153.9 L146.0 153.0 L143.7 151.3 L142.0 149.0 L139.4 148.3 L137.0 147.0 L133.3 146.0 L133.4 148.1 L133.3 150.2 L133.3 153.2 L134.1 156.1 L133.8 159.2 L132.6 162.0 L131.5 164.2 L130.4 166.4 L130.3 168.6 L130.4 170.7 L130.4 173.7 L131.2 176.6 L130.1 179.1 L129.7 181.7 L127.5 184.7 L125.4 185.5 L123.8 186.9 L121.6 187.5 L119.4 187.6 L115.8 188.3 L113.6 191.2 L109.9 192.0 L107.7 191.7 L105.5 191.2 L103.3 191.0 L101.1 190.5 L98.8 190.4 L96.7 191.2 L94.7 191.5 L93.0 192.7 L89.4 192.7 L87.0 191.9 L85.0 190.5 L82.9 191.6 L80.6 192.0 L78.4 192.6 L76.2 192.7 L74.8 190.3 L74.0 187.6 L74.8 183.9 L74.4 181.7 L74.0 179.5 L72.3 177.6 L70.4 175.9 L68.0 175.2 L65.9 174.0 L63.8 174.9 L61.5 174.8 L59.3 173.8 L57.1 172.6 L53.5 171.9 L51.3 172.4 L49.1 172.6 L47.6 174.0 L46.2 175.5 L45.3 178.0 L45.4 180.6 L44.7 184.3 L41.8 182.1 L38.8 179.9 L35.2 179.2 L33.5 177.5 L31.5 176.2 L31.5 174.1 L31.5 171.9 L30.5 170.0 L29.3 168.2 L28.8 166.3 L27.9 164.5 L30.0 162.3 L28.6 158.7 L28.1 156.1 L28.6 153.5 L30.8 150.6 L33.8 150.7 L36.6 149.9 L38.0 148.2 L38.8 146.2 L40.3 144.2 L41.0 141.8 L43.3 141.4 L45.4 140.4 L47.5 138.8 L49.8 137.4 L51.5 135.6 L53.0 133.7 L55.0 132.3 L56.1 129.9 L56.5 127.3 L57.9 125.0 L57.5 123.0 L58.0 121.0 L57.2 118.1 L57.0 115.0 L56.0 112.8 L55.5 110.4 L55.0 108.0 L54.2 105.4 L53.8 102.7 Z" stroke-width="1.25"/>
<path d="M85.0 66.0 L86.8 67.8 L88.0 70.0 L90.2 70.6 L92.1 71.9 L94.0 73.0 L97.1 73.0 L100.0 74.0 L100.6 77.1 L102.0 80.0 L102.4 83.0 L103.0 86.0 L104.8 87.2 L106.0 89.0"/>
<path d="M106.0 89.0 L108.1 89.2 L110.0 90.0 L111.6 91.9 L113.0 94.0 L115.1 95.9 L117.0 98.0 L119.2 98.6 L120.8 100.3 L123.0 101.0 L125.9 102.0 L129.0 102.0 L131.0 103.5 L133.0 105.0 L136.0 107.0"/>
<path d="M106.0 89.0 L106.0 91.3 L106.5 93.7 L106.0 96.0 L106.1 98.7 L105.5 101.4 L105.0 104.0 L104.9 106.4 L104.0 108.6 L104.0 111.0 L102.8 113.7 L101.0 116.0 L101.2 118.7 L99.8 121.3 L100.0 124.0 L99.6 127.0 L98.8 129.3 L98.1 131.6 L96.1 133.0 L93.7 133.8 L91.5 134.9 L89.3 136.0 L86.6 137.9 L83.5 138.9 L81.3 139.6 L78.9 139.9 L76.9 141.1 L74.5 141.8 L72.5 143.3 L71.5 146.2 L71.0 149.2 L71.7 151.3 L71.8 153.5 L68.9 155.7 L68.3 157.6 L67.4 159.4 L69.5 160.9 L71.0 163.0 L71.8 165.4 L73.2 167.5 L74.3 170.4 L75.4 173.3 L74.6 175.6 L74.5 178.0"/>
<path d="M136.0 100.0 L137.9 98.8 L140.0 98.0 L142.4 97.2 L145.0 97.0 L147.7 95.3 L150.0 93.0 L151.9 94.0 L154.0 94.0 L156.3 96.3 L159.0 98.0 L160.3 99.7 L162.0 101.0 L162.2 104.1 L163.0 107.0 L161.3 109.4 L160.0 112.0 L159.3 114.1 L158.0 116.0 L157.5 118.5 L157.0 121.0 L154.9 119.6 L153.0 118.0 L150.0 118.5 L147.0 118.0 L144.7 119.5 L142.0 120.0 L139.9 119.7 L138.0 119.0 L137.2 116.6 L137.0 114.0 L136.9 111.6 L136.8 109.3 L136.0 107.0 L135.9 104.7 L136.5 102.3 L136.0 100.0"/>
<path d="M144.0 55.0 L145.0 57.8 L147.0 60.0 L147.9 62.6 L149.8 64.6 L151.0 67.0 L154.0 68.0 L153.0 71.0 L154.8 73.3 L156.0 76.0 L157.6 77.8 L158.9 79.8 L160.0 82.0 L161.3 83.9 L162.0 86.0 L161.9 89.0 L162.0 92.0 L160.6 93.8 L160.0 96.0 L160.7 98.6 L162.0 101.0"/>
<path d="M138.0 119.5 L137.7 122.3 L137.2 125.1 L137.0 128.0 L136.0 130.6 L136.1 133.4 L135.0 136.0 L134.4 138.5 L133.7 140.9 L133.4 143.4 L133.3 146.0"/>
</g></g>
<rect x="19.7" y="226.4" width="248.5" height="189.9" fill="none" stroke="#111" stroke-width="1.3"/>
<path d="M40.6 221.9 V226.4 M40.6 416.3 V420.8 M137.0 221.9 V226.4 M137.0 416.3 V420.8 M233.3 221.9 V226.4 M233.3 416.3 V420.8 M15.7 319.7 H19.7 M268.2 319.7 H272.2 M15.7 416.3 H19.7 M268.2 416.3 H272.2" stroke="#111" stroke-width="1.1" fill="none"/>
<text transform="translate(40.6,433.6) scale(0.87,1)" font-size="9" text-anchor="middle">29°0'0&quot;E</text>
<text transform="translate(137.0,433.6) scale(0.87,1)" font-size="9" text-anchor="middle">30°0'0&quot;E</text>
<text transform="translate(233.3,433.6) scale(0.87,1)" font-size="9" text-anchor="middle">31°0'0&quot;E</text>
<text transform="translate(13.0,319.7) rotate(-90) scale(0.87,1)" font-size="9" text-anchor="middle">2°0'0&quot;S</text>
<text transform="translate(13.0,416.3) rotate(-90) scale(0.87,1)" font-size="9" text-anchor="middle">3°0'0&quot;S</text>
<text transform="translate(26.3,246.3) scale(0.92,1)" font-size="13.5" fill="#1c1c24" style="stroke:#1c1c24;stroke-width:.35px">(c)</text>
<text x="255.9" y="242.1" font-size="9.8" text-anchor="middle" fill="#10182c" style="stroke:#10182c;stroke-width:.5px">N</text>
<path d="M255.9 245.7 L262.9 268.7 L255.9 261.1 L248.9 268.7 Z" fill="#fff" stroke="#0a1020" stroke-width="0.9" stroke-linejoin="miter"/>
<path d="M255.9 245.7 L255.9 261.1 L248.9 268.7 Z" fill="#0a0a10"/>
<rect x="32.0" y="403.4" width="104" height="4.6" fill="#050505"/>
<rect x="38.5" y="404.3" width="6.5" height="2.8" fill="#fff"/>
<rect x="51.5" y="404.3" width="6.5" height="2.8" fill="#fff"/>
<rect x="84.0" y="404.3" width="26.0" height="2.8" fill="#fff"/>
<text transform="translate(32.0,416.5) scale(0.92,1)" font-size="8.6" text-anchor="middle">0</text>
<text transform="translate(45.0,416.5) scale(0.92,1)" font-size="8.6" text-anchor="middle">15</text>
<text transform="translate(58.0,416.5) scale(0.92,1)" font-size="8.6" text-anchor="middle">30</text>
<text transform="translate(84.0,416.5) scale(0.92,1)" font-size="8.6" text-anchor="middle">60</text>
<text transform="translate(110.0,416.5) scale(0.92,1)" font-size="8.6" text-anchor="middle">90</text>
<text transform="translate(136.0,416.5) scale(0.92,1)" font-size="8.6" text-anchor="middle">120</text>
<text transform="translate(137.5,407.4) scale(0.9,1)" font-size="8.8">Km</text>
<text transform="translate(189.0,374.0) scale(0.9,1)" font-size="8.7" font-weight="bold" fill="#1a2030">Frequency(%)</text>
<text transform="translate(189.0,380.9) scale(0.9,1)" font-size="8.8">Value</text>
<rect x="188.6" y="386.0" width="13.0" height="21.7" fill="url(#lg)"/>
<path d="M201.6 386.4 h1.2 M201.6 396.9 h1.2 M201.6 407.3 h1.2" stroke="#333" stroke-width="0.7"/>
<text transform="translate(205.0,389.2) scale(0.935,1)" font-size="8.5">High : 19.5049</text>
<text transform="translate(205.0,411.6) scale(0.935,1)" font-size="8.5">Low : 14.6953</text>
<g transform="translate(265.7,206.3)">
<g clip-path="url(#rw)" filter="url(#bl)">
<rect x="20" y="15" width="215" height="185" fill="#ff8c00"/>
<ellipse cx="196.3" cy="93.7" rx="62.0" ry="75.0" fill="url(#g67)"/>
<ellipse cx="184.3" cy="55.7" rx="40.0" ry="40.0" fill="url(#g68)"/>
<ellipse cx="204.3" cy="138.7" rx="25.0" ry="25.0" fill="url(#g69)"/>
<ellipse cx="109.5" cy="59.1" rx="13.0" ry="13.0" fill="url(#g70)"/>
<ellipse cx="96.3" cy="69.7" rx="26.0" ry="11.0" fill="url(#g71)" transform="rotate(30 96.3 69.7)"/>
<ellipse cx="121.0" cy="56.5" rx="6.0" ry="6.0" fill="url(#g72)"/>
<ellipse cx="123.5" cy="85.7" rx="13.0" ry="13.0" fill="url(#g73)"/>
<ellipse cx="141.3" cy="74.3" rx="15.0" ry="15.0" fill="url(#g74)"/>
<ellipse cx="152.6" cy="103.7" rx="8.0" ry="8.0" fill="url(#g75)"/>
<ellipse cx="143.3" cy="109.0" rx="8.0" ry="8.0" fill="url(#g76)"/>
<ellipse cx="79.0" cy="118.7" rx="17.0" ry="17.0" fill="url(#g77)"/>
<ellipse cx="66.3" cy="84.7" rx="11.0" ry="11.0" fill="url(#g78)"/>
<ellipse cx="115.3" cy="123.2" rx="12.0" ry="12.0" fill="url(#g79)"/>
<ellipse cx="94.3" cy="158.2" rx="19.0" ry="19.0" fill="url(#g80)"/>
<ellipse cx="81.6" cy="165.7" rx="8.0" ry="8.0" fill="url(#g81)"/>
<ellipse cx="32.3" cy="158.7" rx="15.0" ry="15.0" fill="url(#g82)"/>
<ellipse cx="38.3" cy="174.7" rx="10.0" ry="10.0" fill="url(#g83)"/>
<ellipse cx="179.0" cy="106.7" rx="26.0" ry="16.0" fill="url(#g84)"/>
<ellipse cx="177.7" cy="94.1" rx="6.0" ry="6.0" fill="url(#g85)"/>
<ellipse cx="177.7" cy="128.4" rx="9.0" ry="9.0" fill="url(#g86)"/>
</g>
<g fill="none" stroke="#1a0e00" stroke-width="1.15" stroke-linejoin="round">
<path d="M54.0 100.0 L54.8 97.9 L55.7 95.8 L57.0 94.0 L58.8 91.8 L60.0 89.1 L62.0 87.0 L63.3 85.0 L64.4 82.9 L65.3 80.7 L67.0 79.0 L68.7 76.7 L69.9 74.0 L72.0 72.0 L73.3 70.2 L74.3 68.1 L76.0 66.6 L77.9 65.9 L80.0 66.0 L82.5 65.9 L85.0 66.0 L86.9 64.2 L88.0 61.7 L90.0 60.0 L91.5 58.3 L93.4 57.2 L95.0 55.6 L97.3 55.7 L99.5 54.9 L101.7 54.3 L104.0 54.0 L107.2 53.5 L110.0 52.0 L113.1 52.0 L116.0 53.0 L117.8 50.7 L119.0 48.0 L122.0 47.6 L123.2 49.2 L124.0 51.0 L126.0 54.0 L127.4 56.9 L128.0 60.0 L130.0 63.0 L131.8 61.4 L133.9 60.3 L136.2 59.5 L138.0 58.0 L139.8 56.7 L142.0 56.1 L144.0 55.0 L146.6 53.6 L149.0 52.0 L151.4 50.4 L154.0 49.0 L154.6 46.5 L155.0 44.0 L157.2 41.6 L160.0 40.0 L161.7 38.0 L163.8 36.4 L166.0 35.0 L167.7 32.6 L169.0 30.0 L170.4 27.2 L172.0 24.4 L175.0 23.8 L178.0 23.6 L180.2 23.1 L182.4 22.4 L183.0 24.7 L183.6 27.0 L184.9 29.2 L185.5 31.6 L186.7 33.8 L188.0 36.0 L189.3 38.9 L190.0 42.0 L191.3 44.0 L192.6 46.0 L194.0 48.0 L195.7 50.8 L198.0 53.0 L200.2 54.9 L202.8 56.1 L205.0 58.0 L207.0 61.0 L207.5 64.2 L209.0 67.0 L210.7 69.1 L211.7 71.6 L213.0 74.0 L214.3 76.2 L216.0 78.0 L217.2 79.9 L217.6 82.0 L217.0 84.0 L216.4 86.0 L217.3 88.6 L217.0 91.4 L217.6 94.0 L217.2 96.7 L217.2 99.5 L216.7 102.2 L217.0 105.0 L218.2 107.9 L219.0 111.0 L219.8 113.1 L220.9 115.0 L222.0 117.0 L222.4 119.5 L223.0 122.0 L222.0 124.0 L221.0 126.0 L219.7 127.8 L219.0 130.0 L218.0 132.4 L218.0 135.0 L218.5 137.5 L219.0 140.0 L217.8 142.4 L217.0 145.0 L215.3 147.3 L213.0 149.0 L211.0 149.0 L209.0 149.4 L206.0 148.6 L204.4 150.7 L203.0 153.0 L200.4 153.0 L198.0 154.0 L195.1 153.2 L192.0 153.0 L189.4 152.2 L187.0 151.0 L184.9 149.6 L183.0 148.0 L181.6 146.4 L180.0 145.0 L177.0 144.0 L175.0 146.0 L172.5 146.5 L170.0 146.0 L167.5 147.3 L165.0 148.6 L162.6 149.7 L160.0 150.0 L158.3 152.3 L156.0 154.0 L153.1 155.2 L150.0 155.4 L148.2 153.9 L146.0 153.0 L143.7 151.3 L142.0 149.0 L139.4 148.3 L137.0 147.0 L133.3 146.0 L133.4 148.1 L133.3 150.2 L133.3 153.2 L134.1 156.1 L133.8 159.2 L132.6 162.0 L131.5 164.2 L130.4 166.4 L130.3 168.6 L130.4 170.7 L130.4 173.7 L131.2 176.6 L130.1 179.1 L129.7 181.7 L127.5 184.7 L125.4 185.5 L123.8 186.9 L121.6 187.5 L119.4 187.6 L115.8 188.3 L113.6 191.2 L109.9 192.0 L107.7 191.7 L105.5 191.2 L103.3 191.0 L101.1 190.5 L98.8 190.4 L96.7 191.2 L94.7 191.5 L93.0 192.7 L89.4 192.7 L87.0 191.9 L85.0 190.5 L82.9 191.6 L80.6 192.0 L78.4 192.6 L76.2 192.7 L74.8 190.3 L74.0 187.6 L74.8 183.9 L74.4 181.7 L74.0 179.5 L72.3 177.6 L70.4 175.9 L68.0 175.2 L65.9 174.0 L63.8 174.9 L61.5 174.8 L59.3 173.8 L57.1 172.6 L53.5 171.9 L51.3 172.4 L49.1 172.6 L47.6 174.0 L46.2 175.5 L45.3 178.0 L45.4 180.6 L44.7 184.3 L41.8 182.1 L38.8 179.9 L35.2 179.2 L33.5 177.5 L31.5 176.2 L31.5 174.1 L31.5 171.9 L30.5 170.0 L29.3 168.2 L28.8 166.3 L27.9 164.5 L30.0 162.3 L28.6 158.7 L28.1 156.1 L28.6 153.5 L30.8 150.6 L33.8 150.7 L36.6 149.9 L38.0 148.2 L38.8 146.2 L40.3 144.2 L41.0 141.8 L43.3 141.4 L45.4 140.4 L47.5 138.8 L49.8 137.4 L51.5 135.6 L53.0 133.7 L55.0 132.3 L56.1 129.9 L56.5 127.3 L57.9 125.0 L57.5 123.0 L58.0 121.0 L57.2 118.1 L57.0 115.0 L56.0 112.8 L55.5 110.4 L55.0 108.0 L54.2 105.4 L53.8 102.7 Z" stroke-width="1.25"/>
<path d="M85.0 66.0 L86.8 67.8 L88.0 70.0 L90.2 70.6 L92.1 71.9 L94.0 73.0 L97.1 73.0 L100.0 74.0 L100.6 77.1 L102.0 80.0 L102.4 83.0 L103.0 86.0 L104.8 87.2 L106.0 89.0"/>
<path d="M106.0 89.0 L108.1 89.2 L110.0 90.0 L111.6 91.9 L113.0 94.0 L115.1 95.9 L117.0 98.0 L119.2 98.6 L120.8 100.3 L123.0 101.0 L125.9 102.0 L129.0 102.0 L131.0 103.5 L133.0 105.0 L136.0 107.0"/>
<path d="M106.0 89.0 L106.0 91.3 L106.5 93.7 L106.0 96.0 L106.1 98.7 L105.5 101.4 L105.0 104.0 L104.9 106.4 L104.0 108.6 L104.0 111.0 L102.8 113.7 L101.0 116.0 L101.2 118.7 L99.8 121.3 L100.0 124.0 L99.6 127.0 L98.8 129.3 L98.1 131.6 L96.1 133.0 L93.7 133.8 L91.5 134.9 L89.3 136.0 L86.6 137.9 L83.5 138.9 L81.3 139.6 L78.9 139.9 L76.9 141.1 L74.5 141.8 L72.5 143.3 L71.5 146.2 L71.0 149.2 L71.7 151.3 L71.8 153.5 L68.9 155.7 L68.3 157.6 L67.4 159.4 L69.5 160.9 L71.0 163.0 L71.8 165.4 L73.2 167.5 L74.3 170.4 L75.4 173.3 L74.6 175.6 L74.5 178.0"/>
<path d="M136.0 100.0 L137.9 98.8 L140.0 98.0 L142.4 97.2 L145.0 97.0 L147.7 95.3 L150.0 93.0 L151.9 94.0 L154.0 94.0 L156.3 96.3 L159.0 98.0 L160.3 99.7 L162.0 101.0 L162.2 104.1 L163.0 107.0 L161.3 109.4 L160.0 112.0 L159.3 114.1 L158.0 116.0 L157.5 118.5 L157.0 121.0 L154.9 119.6 L153.0 118.0 L150.0 118.5 L147.0 118.0 L144.7 119.5 L142.0 120.0 L139.9 119.7 L138.0 119.0 L137.2 116.6 L137.0 114.0 L136.9 111.6 L136.8 109.3 L136.0 107.0 L135.9 104.7 L136.5 102.3 L136.0 100.0"/>
<path d="M144.0 55.0 L145.0 57.8 L147.0 60.0 L147.9 62.6 L149.8 64.6 L151.0 67.0 L154.0 68.0 L153.0 71.0 L154.8 73.3 L156.0 76.0 L157.6 77.8 L158.9 79.8 L160.0 82.0 L161.3 83.9 L162.0 86.0 L161.9 89.0 L162.0 92.0 L160.6 93.8 L160.0 96.0 L160.7 98.6 L162.0 101.0"/>
<path d="M138.0 119.5 L137.7 122.3 L137.2 125.1 L137.0 128.0 L136.0 130.6 L136.1 133.4 L135.0 136.0 L134.4 138.5 L133.7 140.9 L133.4 143.4 L133.3 146.0"/>
</g></g>
<rect x="281.6" y="226.4" width="248.7" height="190.3" fill="none" stroke="#111" stroke-width="1.3"/>
<path d="M305.8 221.9 V226.4 M305.8 416.7 V421.2 M402.3 221.9 V226.4 M402.3 416.7 V421.2 M499.5 221.9 V226.4 M499.5 416.7 V421.2 M277.6 319.7 H281.6 M530.3 319.7 H534.3 M277.6 416.5 H281.6 M530.3 416.5 H534.3" stroke="#111" stroke-width="1.1" fill="none"/>
<text transform="translate(305.8,433.6) scale(0.87,1)" font-size="9" text-anchor="middle">29°0'0&quot;E</text>
<text transform="translate(402.3,433.6) scale(0.87,1)" font-size="9" text-anchor="middle">30°0'0&quot;E</text>
<text transform="translate(499.5,433.6) scale(0.87,1)" font-size="9" text-anchor="middle">31°0'0&quot;E</text>
<text transform="translate(545.2,319.7) rotate(-90) scale(0.87,1)" font-size="9" text-anchor="middle">2°0'0&quot;S</text>
<text transform="translate(545.2,416.5) rotate(-90) scale(0.87,1)" font-size="9" text-anchor="middle">3°0'0&quot;S</text>
<text transform="translate(285.5,246.3) scale(0.92,1)" font-size="13.5" fill="#1c1c24" style="stroke:#1c1c24;stroke-width:.35px">(d)</text>
<text x="516.8" y="238.9" font-size="9.8" text-anchor="middle" fill="#10182c" style="stroke:#10182c;stroke-width:.5px">N</text>
<path d="M516.8 242.5 L523.8 265.5 L516.8 257.9 L509.8 265.5 Z" fill="#fff" stroke="#0a1020" stroke-width="0.9" stroke-linejoin="miter"/>
<path d="M516.8 242.5 L516.8 257.9 L509.8 265.5 Z" fill="#0a0a10"/>
<rect x="297.0" y="402.9" width="104" height="4.6" fill="#050505"/>
<rect x="303.5" y="403.8" width="6.5" height="2.8" fill="#fff"/>
<rect x="316.5" y="403.8" width="6.5" height="2.8" fill="#fff"/>
<rect x="349.0" y="403.8" width="26.0" height="2.8" fill="#fff"/>
<text transform="translate(297.0,416.0) scale(0.92,1)" font-size="8.6" text-anchor="middle">0</text>
<text transform="translate(310.0,416.0) scale(0.92,1)" font-size="8.6" text-anchor="middle">15</text>
<text transform="translate(323.0,416.0) scale(0.92,1)" font-size="8.6" text-anchor="middle">30</text>
<text transform="translate(349.0,416.0) scale(0.92,1)" font-size="8.6" text-anchor="middle">60</text>
<text transform="translate(375.0,416.0) scale(0.92,1)" font-size="8.6" text-anchor="middle">90</text>
<text transform="translate(401.0,416.0) scale(0.92,1)" font-size="8.6" text-anchor="middle">120</text>
<text transform="translate(402.5,406.9) scale(0.9,1)" font-size="8.8">Km</text>
<text transform="translate(453.0,371.0) scale(0.9,1)" font-size="8.7" font-weight="bold" fill="#1a2030">Duration(Months)</text>
<text transform="translate(453.0,379.2) scale(0.9,1)" font-size="8.8">Value</text>
<rect x="452.4" y="387.0" width="12.1" height="20.7" fill="url(#lg)"/>
<path d="M464.5 387.4 h1.2 M464.5 397.4 h1.2 M464.5 407.3 h1.2" stroke="#333" stroke-width="0.7"/>
<text transform="translate(468.5,389.9) scale(0.935,1)" font-size="8.5">High : 29.9759</text>
<text transform="translate(468.5,411.6) scale(0.935,1)" font-size="8.5">Low : 6.00439</text>
</svg>
</body></html>
